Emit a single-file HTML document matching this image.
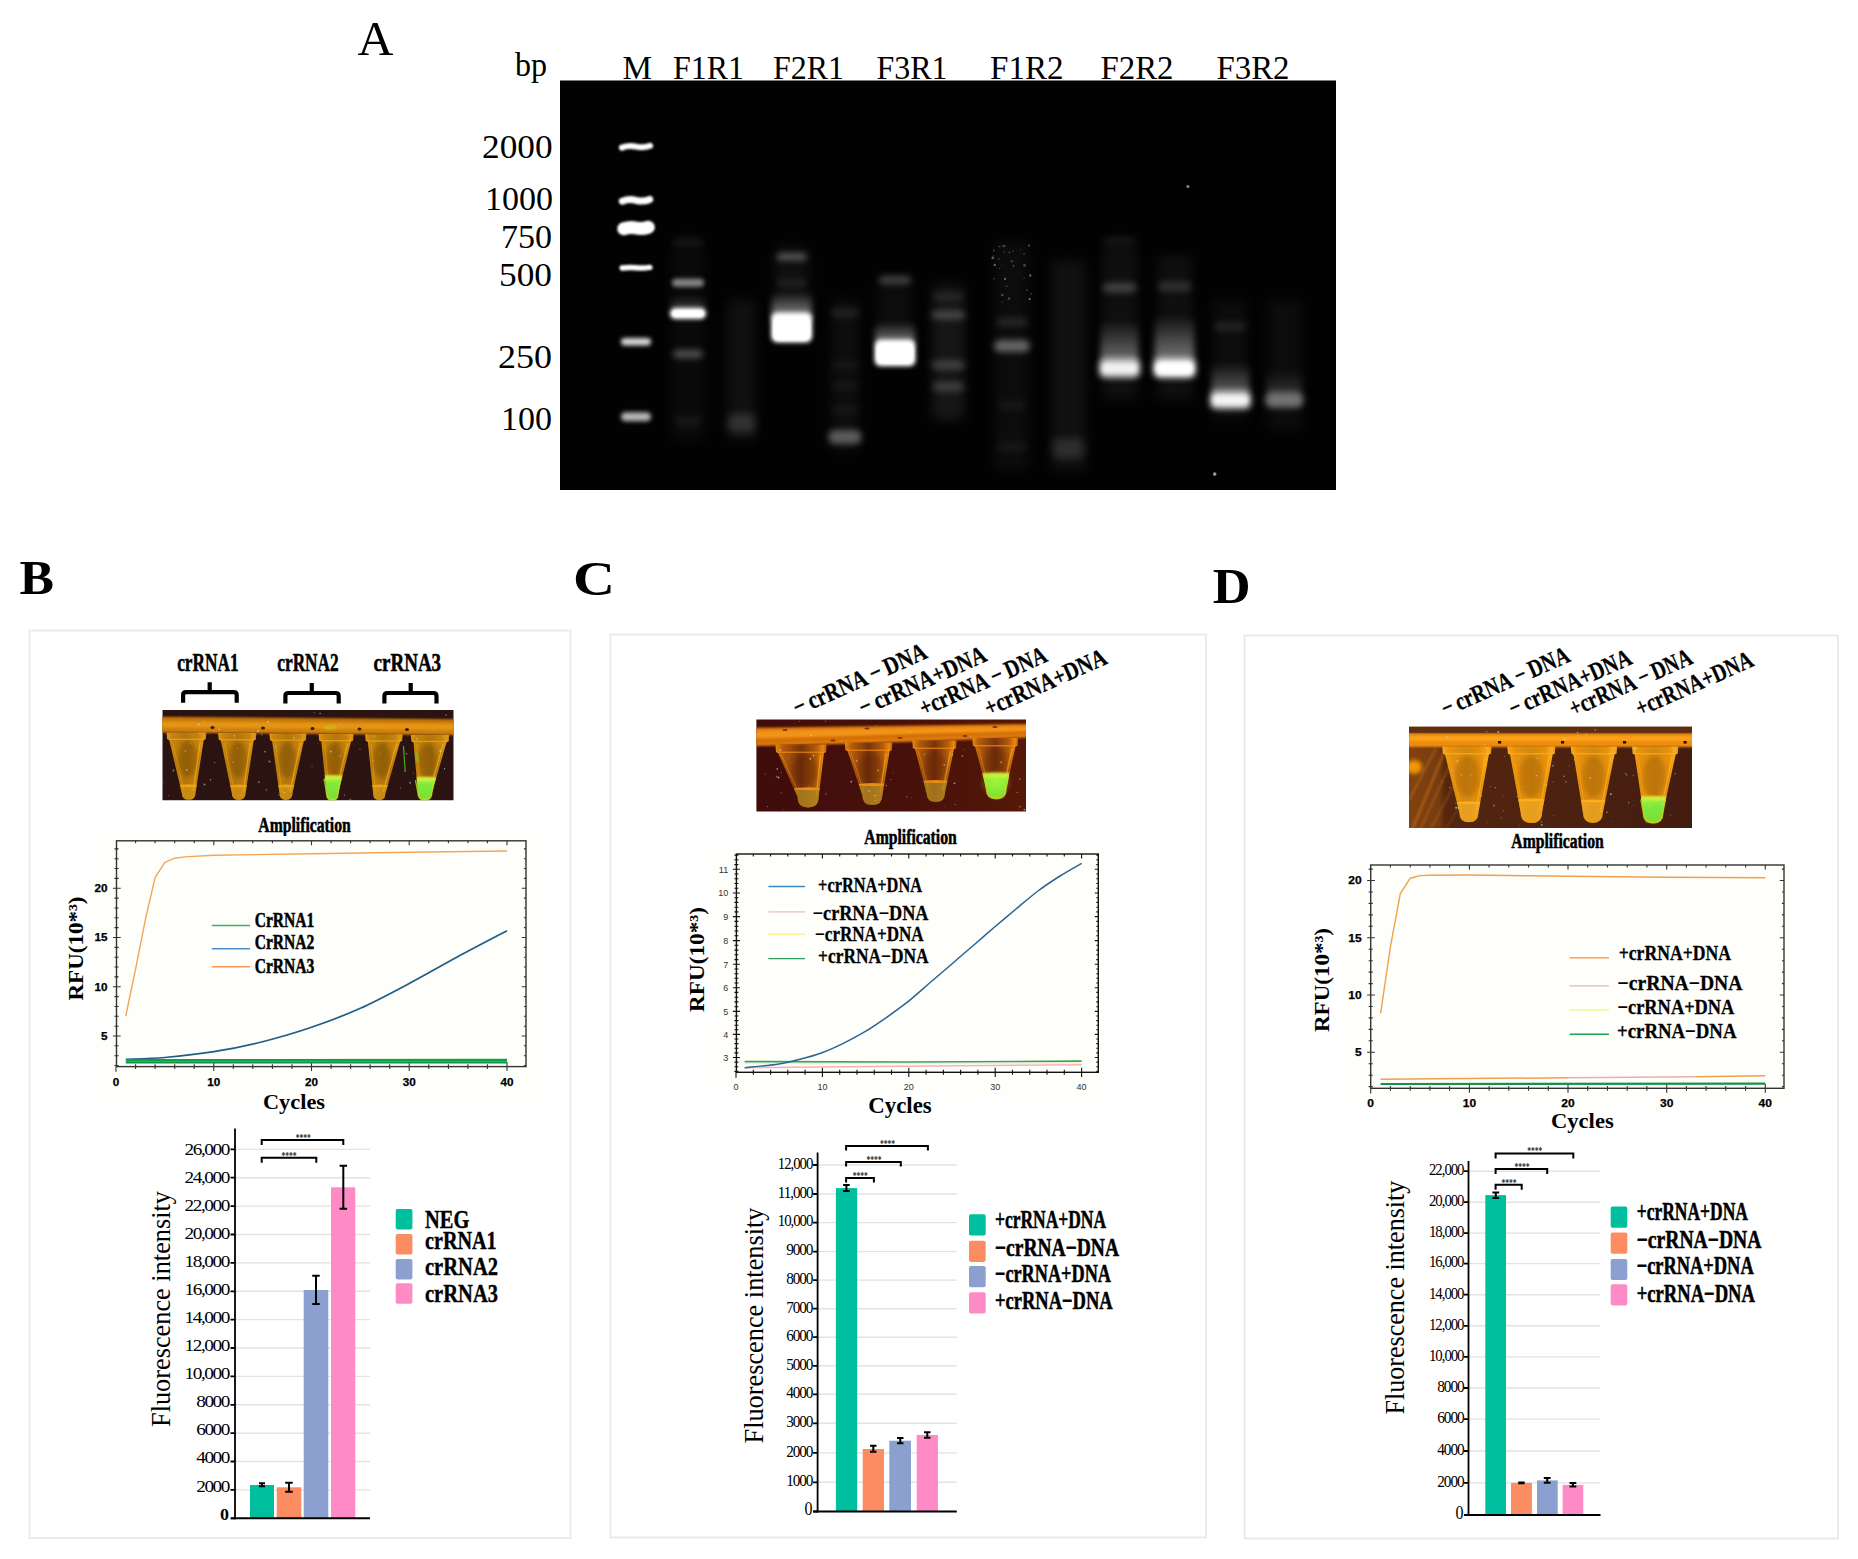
<!DOCTYPE html>
<html lang="en"><head><meta charset="utf-8"><title>Figure</title>
<style>
html,body{margin:0;padding:0;background:#fff;}
body{width:1858px;height:1559px;overflow:hidden;font-family:"Liberation Serif",serif;}
svg{display:block;}
text{white-space:pre;}
</style></head><body>
<svg width="1858" height="1559" viewBox="0 0 1858 1559">
<defs>
<filter id="b1" filterUnits="userSpaceOnUse" x="540" y="60" width="820" height="450"><feGaussianBlur stdDeviation="1.1"/></filter>
<filter id="b2" filterUnits="userSpaceOnUse" x="540" y="60" width="820" height="450"><feGaussianBlur stdDeviation="2"/></filter>
<filter id="b3" filterUnits="userSpaceOnUse" x="540" y="60" width="820" height="450"><feGaussianBlur stdDeviation="3"/></filter>
<filter id="b4" filterUnits="userSpaceOnUse" x="540" y="60" width="820" height="450"><feGaussianBlur stdDeviation="4.5"/></filter>
<filter id="b6" filterUnits="userSpaceOnUse" x="540" y="60" width="820" height="450"><feGaussianBlur stdDeviation="6"/></filter>
<clipPath id="gelclip"><rect x="560" y="80.5" width="776" height="409.5"/></clipPath>
<linearGradient id="tail" x1="0" x2="0" y1="0" y2="1"><stop offset="0" stop-color="#fff" stop-opacity="0"/><stop offset="1" stop-color="#fff" stop-opacity="1"/></linearGradient>
<filter id="pb1s" x="-10%" y="-10%" width="120%" height="120%"><feGaussianBlur stdDeviation="0.6"/></filter>
<filter id="pb1" x="-20%" y="-20%" width="140%" height="140%"><feGaussianBlur stdDeviation="1"/></filter>
<filter id="pb2" x="-20%" y="-50%" width="140%" height="200%"><feGaussianBlur stdDeviation="2"/></filter>
<linearGradient id="greeng" x1="0" x2="0" y1="0" y2="1"><stop offset="0" stop-color="#c8f43c"/><stop offset="0.25" stop-color="#80ea3e"/><stop offset="0.8" stop-color="#78e034"/><stop offset="1" stop-color="#b4dc22"/></linearGradient>
<clipPath id="phB"><rect x="162.3" y="710" width="291.4" height="90.5"/></clipPath>
<clipPath id="phC"><rect x="756.4" y="719.5" width="269.6" height="92"/></clipPath>
<linearGradient id="bgC" x1="0" x2="1" y1="0" y2="0"><stop offset="0" stop-color="#3f0c0c"/><stop offset="0.6" stop-color="#48110a"/><stop offset="1" stop-color="#561808"/></linearGradient>
<radialGradient id="glowC" cx="0.5" cy="0.5" r="0.5"><stop offset="0" stop-color="#c8ff30" stop-opacity="0.9"/><stop offset="1" stop-color="#c8ff30" stop-opacity="0"/></radialGradient>
<clipPath id="phD"><rect x="1409" y="726.7" width="283" height="101.3"/></clipPath>
<linearGradient id="bgD" x1="0" x2="1" y1="0" y2="0"><stop offset="0" stop-color="#7a3a0c"/><stop offset="0.14" stop-color="#54260f"/><stop offset="1" stop-color="#431c10"/></linearGradient>

</defs>
<rect width="1858" height="1559" fill="#fff"/>
<text x="357.5" y="55.0" font-size="48" font-family='"Liberation Serif", serif' textLength="36.0" lengthAdjust="spacingAndGlyphs">A</text>
<text x="515.0" y="76.0" font-size="33" font-family='"Liberation Serif", serif' textLength="32.0" lengthAdjust="spacingAndGlyphs">bp</text>
<text x="622.5" y="79.0" font-size="33" font-family='"Liberation Serif", serif' textLength="29.5" lengthAdjust="spacingAndGlyphs">M</text>
<text x="673.0" y="79.0" font-size="33" font-family='"Liberation Serif", serif' textLength="71.0" lengthAdjust="spacingAndGlyphs">F1R1</text>
<text x="773.0" y="79.0" font-size="33" font-family='"Liberation Serif", serif' textLength="71.0" lengthAdjust="spacingAndGlyphs">F2R1</text>
<text x="876.5" y="79.0" font-size="33" font-family='"Liberation Serif", serif' textLength="71.0" lengthAdjust="spacingAndGlyphs">F3R1</text>
<text x="990.0" y="79.0" font-size="33" font-family='"Liberation Serif", serif' textLength="73.5" lengthAdjust="spacingAndGlyphs">F1R2</text>
<text x="1100.5" y="79.0" font-size="33" font-family='"Liberation Serif", serif' textLength="73.0" lengthAdjust="spacingAndGlyphs">F2R2</text>
<text x="1216.5" y="79.0" font-size="33" font-family='"Liberation Serif", serif' textLength="73.0" lengthAdjust="spacingAndGlyphs">F3R2</text>
<text x="482.0" y="158.3" font-size="33" font-family='"Liberation Serif", serif' textLength="70.5" lengthAdjust="spacingAndGlyphs">2000</text>
<text x="485.0" y="210.0" font-size="33" font-family='"Liberation Serif", serif' textLength="68.0" lengthAdjust="spacingAndGlyphs">1000</text>
<text x="501.0" y="247.5" font-size="33" font-family='"Liberation Serif", serif' textLength="51.0" lengthAdjust="spacingAndGlyphs">750</text>
<text x="499.0" y="286.0" font-size="33" font-family='"Liberation Serif", serif' textLength="53.0" lengthAdjust="spacingAndGlyphs">500</text>
<text x="498.0" y="367.5" font-size="33" font-family='"Liberation Serif", serif' textLength="54.0" lengthAdjust="spacingAndGlyphs">250</text>
<text x="501.0" y="430.0" font-size="33" font-family='"Liberation Serif", serif' textLength="51.0" lengthAdjust="spacingAndGlyphs">100</text>
<rect x="560.0" y="80.5" width="776.0" height="409.5" fill="#020202" />
<g clip-path="url(#gelclip)">
<rect x="672.0" y="235.0" width="32.0" height="205.0" fill="#fff" opacity="0.03" filter="url(#b6)"/>
<rect x="727.7" y="300.0" width="28.0" height="140.0" fill="#fff" opacity="0.055" filter="url(#b6)"/>
<rect x="774.7" y="245.0" width="34.0" height="65.0" fill="#fff" opacity="0.05" filter="url(#b6)"/>
<rect x="831.0" y="300.0" width="28.0" height="150.0" fill="#fff" opacity="0.045" filter="url(#b6)"/>
<rect x="878.0" y="275.0" width="34.0" height="65.0" fill="#fff" opacity="0.04" filter="url(#b6)"/>
<rect x="932.3" y="285.0" width="32.0" height="135.0" fill="#fff" opacity="0.08" filter="url(#b6)"/>
<rect x="994.7" y="240.0" width="34.0" height="230.0" fill="#fff" opacity="0.04" filter="url(#b6)"/>
<rect x="1051.3" y="260.0" width="34.0" height="210.0" fill="#fff" opacity="0.055" filter="url(#b6)"/>
<rect x="1103.0" y="240.0" width="34.0" height="160.0" fill="#fff" opacity="0.05" filter="url(#b6)"/>
<rect x="1158.0" y="255.0" width="34.0" height="145.0" fill="#fff" opacity="0.05" filter="url(#b6)"/>
<rect x="1213.0" y="300.0" width="34.0" height="120.0" fill="#fff" opacity="0.04" filter="url(#b6)"/>
<rect x="1268.0" y="300.0" width="34.0" height="130.0" fill="#fff" opacity="0.04" filter="url(#b6)"/>
<path d="M621.9,147.6 q7.0,-2.6 14.1,-0.9 t14.1,-0.9" stroke="#fff" stroke-width="6" fill="none" stroke-linecap="round" opacity="1.0" filter="url(#b1)"/>
<path d="M622.3,201.2 q6.8,-2.8 13.7,-0.9 t13.7,-0.9" stroke="#fff" stroke-width="7" fill="none" stroke-linecap="round" opacity="1.0" filter="url(#b1)"/>
<path d="M623.7,228.7 q6.2,-2.0 12.3,-0.7 t12.3,-0.7" stroke="#fff" stroke-width="13" fill="none" stroke-linecap="round" opacity="1.0" filter="url(#b1)"/>
<path d="M622.2,268.0 q6.9,-1.0 13.8,-0.3 t13.8,-0.3" stroke="#fff" stroke-width="5.5" fill="none" stroke-linecap="round" opacity="1.0" filter="url(#b1)"/>
<rect x="621.0" y="337.9" width="30.0" height="7.5" rx="3.8" fill="#fff" opacity="0.85" filter="url(#b2)"/>
<rect x="621.0" y="412.2" width="30.0" height="9.0" rx="4.5" fill="#fff" opacity="0.7" filter="url(#b2)"/>
<rect x="673.0" y="237.7" width="30.0" height="8.0" rx="4.0" fill="#fff" opacity="0.05" filter="url(#b3)"/>
<rect x="672.0" y="278.7" width="32.0" height="8.0" rx="4.0" fill="#fff" opacity="0.5" filter="url(#b2)"/>
<rect x="671.0" y="296.0" width="34.0" height="16.0" fill="url(#tail)" opacity="0.25" filter="url(#b3)"/>
<rect x="670.0" y="308.0" width="36.0" height="11.0" rx="5.5" fill="#fff" opacity="1.0" filter="url(#b2)"/>
<rect x="672.5" y="310.5" width="31.0" height="6.0" rx="3.0" fill="#fff" opacity="1.0" filter="url(#b1)"/>
<rect x="673.0" y="350.0" width="30.0" height="8.0" rx="4.0" fill="#fff" opacity="0.28" filter="url(#b3)"/>
<rect x="674.0" y="416.0" width="28.0" height="10.0" rx="5.0" fill="#fff" opacity="0.05" filter="url(#b3)"/>
<rect x="727.7" y="414.0" width="28.0" height="18.0" rx="6.0" fill="#fff" opacity="0.14" filter="url(#b4)"/>
<rect x="776.7" y="253.2" width="30.0" height="7.0" rx="3.5" fill="#fff" opacity="0.3" filter="url(#b3)"/>
<rect x="776.7" y="279.0" width="30.0" height="8.0" rx="4.0" fill="#fff" opacity="0.07" filter="url(#b3)"/>
<rect x="771.7" y="292.0" width="40.0" height="26.0" fill="url(#tail)" opacity="0.55" filter="url(#b3)"/>
<rect x="771.2" y="312.5" width="41.0" height="30.0" rx="6.0" fill="#fff" opacity="1.0" filter="url(#b2)"/>
<rect x="773.2" y="317.5" width="37.0" height="23.0" rx="6.0" fill="#fff" opacity="1.0" filter="url(#b1)"/>
<rect x="831.0" y="308.5" width="28.0" height="9.0" rx="4.5" fill="#fff" opacity="0.08" filter="url(#b3)"/>
<rect x="831.0" y="361.0" width="28.0" height="8.0" rx="4.0" fill="#fff" opacity="0.04" filter="url(#b3)"/>
<rect x="831.0" y="382.0" width="28.0" height="8.0" rx="4.0" fill="#fff" opacity="0.04" filter="url(#b3)"/>
<rect x="831.0" y="406.0" width="28.0" height="8.0" rx="4.0" fill="#fff" opacity="0.04" filter="url(#b3)"/>
<rect x="828.5" y="430.0" width="33.0" height="14.0" rx="6.0" fill="#fff" opacity="0.32" filter="url(#b3)"/>
<rect x="879.0" y="276.0" width="32.0" height="8.0" rx="4.0" fill="#fff" opacity="0.22" filter="url(#b3)"/>
<rect x="875.0" y="322.0" width="40.0" height="20.0" fill="url(#tail)" opacity="0.45" filter="url(#b3)"/>
<rect x="874.5" y="339.2" width="41.0" height="27.0" rx="6.0" fill="#fff" opacity="1.0" filter="url(#b2)"/>
<rect x="876.5" y="343.5" width="37.0" height="20.0" rx="6.0" fill="#fff" opacity="1.0" filter="url(#b1)"/>
<rect x="932.3" y="292.7" width="32.0" height="8.0" rx="4.0" fill="#fff" opacity="0.07" filter="url(#b3)"/>
<rect x="931.3" y="310.5" width="34.0" height="9.0" rx="4.5" fill="#fff" opacity="0.2" filter="url(#b3)"/>
<rect x="931.3" y="360.0" width="34.0" height="10.0" rx="5.0" fill="#fff" opacity="0.17" filter="url(#b3)"/>
<rect x="932.3" y="381.7" width="32.0" height="10.0" rx="5.0" fill="#fff" opacity="0.16" filter="url(#b3)"/>
<rect x="996.0" y="317.5" width="32.0" height="9.0" rx="4.5" fill="#fff" opacity="0.1" filter="url(#b3)"/>
<rect x="994.0" y="340.0" width="36.0" height="12.0" rx="6.0" fill="#fff" opacity="0.36" filter="url(#b3)"/>
<rect x="997.0" y="400.5" width="30.0" height="9.0" rx="4.5" fill="#fff" opacity="0.04" filter="url(#b3)"/>
<rect x="997.0" y="441.7" width="30.0" height="10.0" rx="5.0" fill="#fff" opacity="0.04" filter="url(#b3)"/>
<circle cx="1001.9" cy="246.4" r="0.8" fill="#fff" opacity="0.17"/>
<circle cx="994.8" cy="264.9" r="1.2" fill="#fff" opacity="0.36"/>
<circle cx="1024.1" cy="253.8" r="0.9" fill="#fff" opacity="0.20"/>
<circle cx="999.3" cy="246.6" r="0.7" fill="#fff" opacity="0.40"/>
<circle cx="1026.8" cy="290.0" r="1.1" fill="#fff" opacity="0.18"/>
<circle cx="1005.0" cy="278.9" r="1.1" fill="#fff" opacity="0.38"/>
<circle cx="1029.0" cy="245.4" r="1.0" fill="#fff" opacity="0.32"/>
<circle cx="1013.3" cy="251.0" r="0.9" fill="#fff" opacity="0.15"/>
<circle cx="1031.3" cy="293.7" r="0.9" fill="#fff" opacity="0.21"/>
<circle cx="1030.2" cy="275.5" r="1.2" fill="#fff" opacity="0.37"/>
<circle cx="1013.4" cy="265.7" r="1.0" fill="#fff" opacity="0.25"/>
<circle cx="998.8" cy="258.9" r="1.2" fill="#fff" opacity="0.13"/>
<circle cx="993.9" cy="278.8" r="0.7" fill="#fff" opacity="0.28"/>
<circle cx="1011.8" cy="261.3" r="1.3" fill="#fff" opacity="0.18"/>
<circle cx="1009.3" cy="252.6" r="1.0" fill="#fff" opacity="0.20"/>
<circle cx="1006.9" cy="286.3" r="0.8" fill="#fff" opacity="0.29"/>
<circle cx="1030.0" cy="246.3" r="0.5" fill="#fff" opacity="0.19"/>
<circle cx="1024.1" cy="278.2" r="0.7" fill="#fff" opacity="0.22"/>
<circle cx="999.5" cy="268.5" r="0.5" fill="#fff" opacity="0.33"/>
<circle cx="1029.6" cy="299.2" r="1.1" fill="#fff" opacity="0.41"/>
<circle cx="992.8" cy="257.9" r="1.3" fill="#fff" opacity="0.35"/>
<circle cx="1009.2" cy="298.5" r="1.0" fill="#fff" opacity="0.37"/>
<circle cx="1004.3" cy="251.9" r="0.9" fill="#fff" opacity="0.16"/>
<circle cx="1008.0" cy="299.6" r="0.8" fill="#fff" opacity="0.12"/>
<circle cx="993.9" cy="250.5" r="1.1" fill="#fff" opacity="0.23"/>
<circle cx="1004.2" cy="246.0" r="1.3" fill="#fff" opacity="0.25"/>
<circle cx="1000.7" cy="243.7" r="0.5" fill="#fff" opacity="0.17"/>
<circle cx="1020.4" cy="249.3" r="0.5" fill="#fff" opacity="0.27"/>
<circle cx="1002.5" cy="301.9" r="0.6" fill="#fff" opacity="0.28"/>
<circle cx="1024.5" cy="265.4" r="1.3" fill="#fff" opacity="0.26"/>
<circle cx="1002.2" cy="265.5" r="0.5" fill="#fff" opacity="0.25"/>
<circle cx="1002.4" cy="295.1" r="1.2" fill="#fff" opacity="0.27"/>
<circle cx="993.3" cy="255.8" r="0.7" fill="#fff" opacity="0.18"/>
<circle cx="1001.7" cy="293.9" r="0.6" fill="#fff" opacity="0.14"/>
<rect x="1052.5" y="438.5" width="32.0" height="20.0" rx="6.0" fill="#fff" opacity="0.12" filter="url(#b4)"/>
<rect x="1103.6" y="236.0" width="32.0" height="8.0" rx="4.0" fill="#fff" opacity="0.05" filter="url(#b3)"/>
<rect x="1102.6" y="282.7" width="34.0" height="10.0" rx="5.0" fill="#fff" opacity="0.2" filter="url(#b3)"/>
<rect x="1100.6" y="320.0" width="38.0" height="42.0" fill="url(#tail)" opacity="0.4" filter="url(#b3)"/>
<rect x="1099.1" y="358.8" width="41.0" height="19.0" rx="6.0" fill="#fff" opacity="0.8" filter="url(#b3)"/>
<rect x="1102.1" y="363.8" width="35.0" height="9.0" rx="4.5" fill="#fff" opacity="0.75" filter="url(#b2)"/>
<rect x="1157.5" y="281.4" width="34.0" height="10.0" rx="5.0" fill="#fff" opacity="0.13" filter="url(#b3)"/>
<rect x="1154.5" y="315.0" width="40.0" height="47.0" fill="url(#tail)" opacity="0.45" filter="url(#b3)"/>
<rect x="1153.5" y="358.8" width="42.0" height="19.0" rx="6.0" fill="#fff" opacity="0.95" filter="url(#b3)"/>
<rect x="1156.0" y="362.8" width="37.0" height="11.0" rx="5.5" fill="#fff" opacity="1.0" filter="url(#b2)"/>
<rect x="1214.5" y="322.2" width="32.0" height="9.0" rx="4.5" fill="#fff" opacity="0.09" filter="url(#b3)"/>
<rect x="1211.5" y="362.0" width="38.0" height="32.0" fill="url(#tail)" opacity="0.35" filter="url(#b3)"/>
<rect x="1210.0" y="391.0" width="41.0" height="18.0" rx="6.0" fill="#fff" opacity="0.8" filter="url(#b3)"/>
<rect x="1213.0" y="395.5" width="35.0" height="9.0" rx="4.5" fill="#fff" opacity="0.8" filter="url(#b2)"/>
<rect x="1266.2" y="370.0" width="36.0" height="24.0" fill="url(#tail)" opacity="0.15" filter="url(#b3)"/>
<rect x="1265.2" y="392.5" width="38.0" height="15.0" rx="6.0" fill="#fff" opacity="0.42" filter="url(#b3)"/>
<circle cx="1187.9" cy="186.5" r="1.6" fill="#fff" opacity="0.5"/>
<circle cx="1214.7" cy="474.1" r="1.8" fill="#fff" opacity="0.6"/>
</g>
<text x="19.6" y="594.0" font-size="47.5" font-family='"Liberation Serif", serif' font-weight="bold" textLength="34.5" lengthAdjust="spacingAndGlyphs">B</text>
<rect x="29.5" y="630.5" width="541" height="907.5" fill="#fff" stroke="#e9e9e9" stroke-width="1.8"/>
<text x="177.2" y="670.7" font-size="25" font-family='"Liberation Serif", serif' font-weight="bold" textLength="61.4" lengthAdjust="spacingAndGlyphs" stroke="#000" stroke-width="0.55">crRNA1</text>
<text x="277.3" y="670.7" font-size="25" font-family='"Liberation Serif", serif' font-weight="bold" textLength="61.4" lengthAdjust="spacingAndGlyphs" stroke="#000" stroke-width="0.55">crRNA2</text>
<text x="373.6" y="670.7" font-size="25" font-family='"Liberation Serif", serif' font-weight="bold" textLength="67.5" lengthAdjust="spacingAndGlyphs" stroke="#000" stroke-width="0.55">crRNA3</text>
<path d="M183.1,702.8000000000001V695.2Q183.1,692.2 186.1,692.2H233.7Q236.7,692.2 236.7,695.2V702.8000000000001M209.7,692.2V682.2" stroke="#000" stroke-width="4.2" fill="none" />
<path d="M285.4,703.6V696Q285.4,693 288.4,693H335.7Q338.7,693 338.7,696V703.6M311.8,693V683" stroke="#000" stroke-width="4.2" fill="none" />
<path d="M384.4,703.6V696Q384.4,693 387.4,693H433.5Q436.5,693 436.5,696V703.6M410.7,693V683" stroke="#000" stroke-width="4.2" fill="none" />
<g clip-path="url(#phB)">
<rect x="162.3" y="710.0" width="291.4" height="90.5" fill="#2a1311" />
<path d="M160,717 L456,719.6 L456,735 L160,732.6 Z" fill="#d07e0a" filter="url(#pb1)"/>
<path d="M160,721.5 L456,724 L456,730 L160,727.5 Z" fill="#e89c18" opacity="0.8" filter="url(#pb1)"/>
<path d="M160,717.5 L456,720 L456,721.5 L160,719 Z" fill="#b86c08" opacity="0.7" filter="url(#pb1)"/>
<linearGradient id="tgB0" x1="0" x2="1" y1="0" y2="0"><stop offset="0" stop-color="#f0a616"/><stop offset="0.14" stop-color="#d48e0e"/><stop offset="0.5" stop-color="#c08010"/><stop offset="0.8" stop-color="#d48e0e"/><stop offset="0.93" stop-color="#f0a616"/><stop offset="1" stop-color="#d48e0e"/></linearGradient>
<clipPath id="tcB0"><path d="M166.5,732.6 L206.4,732.6 L205.8,739.1 L203.7,740.1 L195.5,792.9 Q195.5,799.8 188.7,799.8 Q181.8,799.8 181.8,792.9 L169.2,740.1 L167.1,739.1 Z"/></clipPath>
<path d="M166.5,732.6 L206.4,732.6 L205.8,739.1 L203.7,740.1 L195.5,792.9 Q195.5,799.8 188.7,799.8 Q181.8,799.8 181.8,792.9 L169.2,740.1 L167.1,739.1 Z" fill="url(#tgB0)" opacity="0.92" filter="url(#pb1s)"/>
<g clip-path="url(#tcB0)">
<ellipse cx="187.6" cy="759.3" rx="9.8" ry="18.1" fill="#5a3606" opacity="0.35" filter="url(#pb2)"/>
<rect x="165.7" y="738.7" width="41.5" height="1.3" fill="#f0a616" opacity="0.75" filter="url(#pb1s)"/>
<path d="M200.2,742.1 L193.3,790.9" stroke="#ffc028" stroke-width="1.3" opacity="0.55" filter="url(#pb1s)"/>
<path d="M172.7,742.1 L184.0,790.9" stroke="#ffb420" stroke-width="1" opacity="0.35" filter="url(#pb1s)"/>
<rect x="173.8" y="785.8" width="29.7" height="15.0" fill="#e0a21a" opacity="0.45"/>
<ellipse cx="188.7" cy="785.8" rx="10.8" ry="1.5" fill="#f0a616" opacity="0.9" filter="url(#pb1s)"/>
</g>
<linearGradient id="tgB1" x1="0" x2="1" y1="0" y2="0"><stop offset="0" stop-color="#f0a616"/><stop offset="0.14" stop-color="#d48e0e"/><stop offset="0.5" stop-color="#c08010"/><stop offset="0.8" stop-color="#d48e0e"/><stop offset="0.93" stop-color="#f0a616"/><stop offset="1" stop-color="#d48e0e"/></linearGradient>
<clipPath id="tcB1"><path d="M218.1,733.0 L256.4,733.0 L255.8,739.5 L253.7,740.5 L245.6,793.1 Q245.6,800.0 238.7,800.0 Q231.8,800.0 231.8,793.1 L220.8,740.5 L218.7,739.5 Z"/></clipPath>
<path d="M218.1,733.0 L256.4,733.0 L255.8,739.5 L253.7,740.5 L245.6,793.1 Q245.6,800.0 238.7,800.0 Q231.8,800.0 231.8,793.1 L220.8,740.5 L218.7,739.5 Z" fill="url(#tgB1)" opacity="0.92" filter="url(#pb1s)"/>
<g clip-path="url(#tcB1)">
<ellipse cx="238.0" cy="759.6" rx="9.3" ry="18.1" fill="#5a3606" opacity="0.35" filter="url(#pb2)"/>
<rect x="217.3" y="739.1" width="39.9" height="1.3" fill="#f0a616" opacity="0.75" filter="url(#pb1s)"/>
<path d="M250.2,742.5 L243.4,791.1" stroke="#ffc028" stroke-width="1.3" opacity="0.55" filter="url(#pb1s)"/>
<path d="M224.3,742.5 L234.0,791.1" stroke="#ffb420" stroke-width="1" opacity="0.35" filter="url(#pb1s)"/>
<rect x="223.8" y="786.0" width="29.8" height="15.0" fill="#e0a21a" opacity="0.45"/>
<ellipse cx="238.7" cy="786.0" rx="10.9" ry="1.5" fill="#f0a616" opacity="0.9" filter="url(#pb1s)"/>
</g>
<linearGradient id="tgB2" x1="0" x2="1" y1="0" y2="0"><stop offset="0" stop-color="#f0a616"/><stop offset="0.14" stop-color="#d48e0e"/><stop offset="0.5" stop-color="#c08010"/><stop offset="0.8" stop-color="#d48e0e"/><stop offset="0.93" stop-color="#f0a616"/><stop offset="1" stop-color="#d48e0e"/></linearGradient>
<clipPath id="tcB2"><path d="M269.4,733.4 L306.5,733.4 L305.9,739.9 L303.8,740.9 L292.4,793.5 Q292.4,800.0 285.9,800.0 Q279.5,800.0 279.5,793.5 L272.1,740.9 L270.0,739.9 Z"/></clipPath>
<path d="M269.4,733.4 L306.5,733.4 L305.9,739.9 L303.8,740.9 L292.4,793.5 Q292.4,800.0 285.9,800.0 Q279.5,800.0 279.5,793.5 L272.1,740.9 L270.0,739.9 Z" fill="url(#tgB2)" opacity="0.92" filter="url(#pb1s)"/>
<g clip-path="url(#tcB2)">
<ellipse cx="287.0" cy="759.9" rx="9.0" ry="18.0" fill="#5a3606" opacity="0.35" filter="url(#pb2)"/>
<rect x="268.6" y="739.5" width="38.7" height="1.3" fill="#f0a616" opacity="0.75" filter="url(#pb1s)"/>
<path d="M300.3,742.9 L290.2,791.5" stroke="#ffc028" stroke-width="1.3" opacity="0.55" filter="url(#pb1s)"/>
<path d="M275.6,742.9 L281.7,791.5" stroke="#ffb420" stroke-width="1" opacity="0.35" filter="url(#pb1s)"/>
<rect x="271.5" y="786.0" width="28.9" height="15.0" fill="#e0a21a" opacity="0.45"/>
<ellipse cx="285.9" cy="786.0" rx="10.4" ry="1.5" fill="#f0a616" opacity="0.9" filter="url(#pb1s)"/>
</g>
<linearGradient id="tgB3" x1="0" x2="1" y1="0" y2="0"><stop offset="0" stop-color="#f0a616"/><stop offset="0.14" stop-color="#d48e0e"/><stop offset="0.5" stop-color="#c08010"/><stop offset="0.8" stop-color="#d48e0e"/><stop offset="0.93" stop-color="#f0a616"/><stop offset="1" stop-color="#d48e0e"/></linearGradient>
<clipPath id="tcB3"><path d="M318.6,733.9 L353.7,733.9 L353.1,740.4 L351.0,741.4 L337.9,794.6 Q337.9,800.2 332.3,800.2 Q326.7,800.2 326.7,794.6 L321.3,741.4 L319.2,740.4 Z"/></clipPath>
<path d="M318.6,733.9 L353.7,733.9 L353.1,740.4 L351.0,741.4 L337.9,794.6 Q337.9,800.2 332.3,800.2 Q326.7,800.2 326.7,794.6 L321.3,741.4 L319.2,740.4 Z" fill="url(#tgB3)" opacity="0.92" filter="url(#pb1s)"/>
<g clip-path="url(#tcB3)">
<ellipse cx="334.2" cy="760.3" rx="8.5" ry="17.9" fill="#5a3606" opacity="0.35" filter="url(#pb2)"/>
<rect x="317.8" y="740.0" width="36.7" height="1.3" fill="#f0a616" opacity="0.75" filter="url(#pb1s)"/>
<path d="M347.5,743.4 L335.7,792.6" stroke="#ffc028" stroke-width="1.3" opacity="0.55" filter="url(#pb1s)"/>
<path d="M324.8,743.4 L328.9,792.6" stroke="#ffb420" stroke-width="1" opacity="0.35" filter="url(#pb1s)"/>
<rect x="316.7" y="776.5" width="31.2" height="25.7" fill="url(#greeng)" filter="url(#pb1)"/>
<ellipse cx="332.3" cy="777.0" rx="10.6" ry="2" fill="#d6f03a" opacity="0.85" filter="url(#pb1)"/>
</g>
<path d="M324.2,778.5 L326.7,794.6 Q326.7,800.2 332.3,800.2 Q337.9,800.2 337.9,794.6 L340.4,778.5" fill="none" stroke="#d8d418" stroke-width="1.4" opacity="0.8" filter="url(#pb1s)"/>
<linearGradient id="tgB4" x1="0" x2="1" y1="0" y2="0"><stop offset="0" stop-color="#f0a616"/><stop offset="0.14" stop-color="#d48e0e"/><stop offset="0.5" stop-color="#c08010"/><stop offset="0.8" stop-color="#d48e0e"/><stop offset="0.93" stop-color="#f0a616"/><stop offset="1" stop-color="#d48e0e"/></linearGradient>
<clipPath id="tcB4"><path d="M365.1,734.3 L402.8,734.3 L402.2,740.8 L400.1,741.8 L385.3,794.0 Q385.3,800.0 379.2,800.0 Q373.2,800.0 373.2,794.0 L367.8,741.8 L365.7,740.8 Z"/></clipPath>
<path d="M365.1,734.3 L402.8,734.3 L402.2,740.8 L400.1,741.8 L385.3,794.0 Q385.3,800.0 379.2,800.0 Q373.2,800.0 373.2,794.0 L367.8,741.8 L365.7,740.8 Z" fill="url(#tgB4)" opacity="0.92" filter="url(#pb1s)"/>
<g clip-path="url(#tcB4)">
<ellipse cx="381.6" cy="760.5" rx="9.2" ry="17.7" fill="#5a3606" opacity="0.35" filter="url(#pb2)"/>
<rect x="364.3" y="740.4" width="39.3" height="1.3" fill="#f0a616" opacity="0.75" filter="url(#pb1s)"/>
<path d="M396.6,743.8 L383.1,792.0" stroke="#ffc028" stroke-width="1.3" opacity="0.55" filter="url(#pb1s)"/>
<path d="M371.3,743.8 L375.4,792.0" stroke="#ffb420" stroke-width="1" opacity="0.35" filter="url(#pb1s)"/>
<rect x="365.2" y="786.0" width="28.1" height="15.0" fill="#e0a21a" opacity="0.45"/>
<ellipse cx="379.2" cy="786.0" rx="10.1" ry="1.5" fill="#f0a616" opacity="0.9" filter="url(#pb1s)"/>
</g>
<linearGradient id="tgB5" x1="0" x2="1" y1="0" y2="0"><stop offset="0" stop-color="#f0a616"/><stop offset="0.14" stop-color="#d48e0e"/><stop offset="0.5" stop-color="#c08010"/><stop offset="0.8" stop-color="#d48e0e"/><stop offset="0.93" stop-color="#f0a616"/><stop offset="1" stop-color="#d48e0e"/></linearGradient>
<clipPath id="tcB5"><path d="M410.8,734.7 L449.3,734.7 L448.7,741.2 L446.6,742.2 L431.8,793.1 Q431.8,800.0 424.9,800.0 Q418.0,800.0 418.0,793.1 L413.5,742.2 L411.4,741.2 Z"/></clipPath>
<path d="M410.8,734.7 L449.3,734.7 L448.7,741.2 L446.6,742.2 L431.8,793.1 Q431.8,800.0 424.9,800.0 Q418.0,800.0 418.0,793.1 L413.5,742.2 L411.4,741.2 Z" fill="url(#tgB5)" opacity="0.92" filter="url(#pb1s)"/>
<g clip-path="url(#tcB5)">
<ellipse cx="427.5" cy="760.8" rx="9.4" ry="17.6" fill="#5a3606" opacity="0.35" filter="url(#pb2)"/>
<rect x="410.0" y="740.8" width="40.1" height="1.3" fill="#f0a616" opacity="0.75" filter="url(#pb1s)"/>
<path d="M443.1,744.2 L429.6,791.1" stroke="#ffc028" stroke-width="1.3" opacity="0.55" filter="url(#pb1s)"/>
<path d="M417.0,744.2 L420.2,791.1" stroke="#ffb420" stroke-width="1" opacity="0.35" filter="url(#pb1s)"/>
<rect x="408.0" y="778.2" width="33.8" height="23.8" fill="url(#greeng)" filter="url(#pb1)"/>
<ellipse cx="424.9" cy="778.7" rx="11.9" ry="2" fill="#d6f03a" opacity="0.85" filter="url(#pb1)"/>
</g>
<path d="M415.5,780.2 L418.0,793.1 Q418.0,800.0 424.9,800.0 Q431.8,800.0 431.8,793.1 L434.3,780.2" fill="none" stroke="#d8d418" stroke-width="1.4" opacity="0.8" filter="url(#pb1s)"/>
<ellipse cx="212.5" cy="727.5" rx="2" ry="1.5" fill="#3a1a08"/>
<ellipse cx="263" cy="728" rx="2" ry="1.5" fill="#3a1a08"/>
<ellipse cx="312.5" cy="728.5" rx="2" ry="1.5" fill="#3a1a08"/>
<ellipse cx="359.5" cy="729" rx="2" ry="1.5" fill="#3a1a08"/>
<ellipse cx="407" cy="729.4" rx="2" ry="1.5" fill="#3a1a08"/>
<path d="M403.5,746 L405.2,772" stroke="#58d020" stroke-width="1.1" opacity="0.85" filter="url(#pb1s)"/>
<path d="M415.5,752 L418,762" stroke="#8ad020" stroke-width="2.2" opacity="0.7" filter="url(#pb1)"/>
<ellipse cx="330" cy="727.5" rx="7" ry="2" fill="#b8d818" opacity="0.55" filter="url(#pb1)"/>
<circle cx="256.2" cy="724.4" r="0.8" fill="#bfe8e8" opacity="0.28"/>
<circle cx="317.9" cy="743.5" r="0.4" fill="#bfe8e8" opacity="0.48"/>
<circle cx="172.9" cy="749.6" r="0.4" fill="#bfe8e8" opacity="0.29"/>
<circle cx="285.5" cy="784.6" r="0.5" fill="#bfe8e8" opacity="0.35"/>
<circle cx="344.6" cy="795.3" r="0.7" fill="#bfe8e8" opacity="0.43"/>
<circle cx="446.1" cy="715.1" r="0.9" fill="#bfe8e8" opacity="0.38"/>
<circle cx="204.0" cy="721.5" r="0.6" fill="#bfe8e8" opacity="0.62"/>
<circle cx="214.6" cy="762.8" r="0.8" fill="#bfe8e8" opacity="0.42"/>
<circle cx="321.4" cy="716.6" r="0.4" fill="#bfe8e8" opacity="0.34"/>
<circle cx="360.0" cy="749.1" r="0.6" fill="#bfe8e8" opacity="0.51"/>
<circle cx="293.9" cy="737.7" r="0.9" fill="#bfe8e8" opacity="0.56"/>
<circle cx="233.0" cy="762.1" r="0.7" fill="#bfe8e8" opacity="0.64"/>
<circle cx="374.3" cy="736.6" r="1.0" fill="#bfe8e8" opacity="0.30"/>
<circle cx="283.7" cy="778.4" r="0.5" fill="#bfe8e8" opacity="0.47"/>
<circle cx="173.4" cy="770.5" r="0.9" fill="#bfe8e8" opacity="0.51"/>
<circle cx="416.8" cy="738.9" r="0.8" fill="#bfe8e8" opacity="0.52"/>
<circle cx="330.7" cy="751.6" r="0.9" fill="#bfe8e8" opacity="0.68"/>
<circle cx="300.0" cy="770.1" r="0.4" fill="#bfe8e8" opacity="0.57"/>
<circle cx="350.3" cy="799.4" r="0.9" fill="#bfe8e8" opacity="0.38"/>
<circle cx="274.3" cy="770.5" r="0.4" fill="#bfe8e8" opacity="0.46"/>
<circle cx="210.9" cy="721.4" r="0.4" fill="#bfe8e8" opacity="0.60"/>
<circle cx="199.6" cy="733.0" r="0.6" fill="#bfe8e8" opacity="0.64"/>
<circle cx="185.4" cy="751.0" r="0.7" fill="#bfe8e8" opacity="0.65"/>
<circle cx="400.4" cy="787.9" r="0.6" fill="#bfe8e8" opacity="0.44"/>
<circle cx="266.4" cy="789.7" r="1.0" fill="#bfe8e8" opacity="0.32"/>
<circle cx="213.3" cy="731.6" r="0.5" fill="#bfe8e8" opacity="0.47"/>
<circle cx="333.4" cy="734.4" r="0.4" fill="#bfe8e8" opacity="0.44"/>
<circle cx="269.5" cy="761.4" r="1.0" fill="#bfe8e8" opacity="0.56"/>
<circle cx="312.0" cy="766.0" r="0.8" fill="#bfe8e8" opacity="0.27"/>
<circle cx="423.8" cy="780.4" r="0.9" fill="#bfe8e8" opacity="0.61"/>
<circle cx="276.2" cy="746.5" r="0.5" fill="#bfe8e8" opacity="0.54"/>
<circle cx="180.1" cy="717.0" r="0.5" fill="#bfe8e8" opacity="0.32"/>
<circle cx="261.0" cy="715.7" r="0.4" fill="#bfe8e8" opacity="0.32"/>
<circle cx="191.5" cy="743.4" r="0.4" fill="#bfe8e8" opacity="0.64"/>
<circle cx="340.7" cy="724.2" r="0.6" fill="#bfe8e8" opacity="0.41"/>
<circle cx="268.0" cy="721.9" r="0.9" fill="#bfe8e8" opacity="0.70"/>
<circle cx="297.6" cy="754.1" r="0.5" fill="#bfe8e8" opacity="0.30"/>
<circle cx="261.7" cy="734.6" r="0.9" fill="#bfe8e8" opacity="0.32"/>
<circle cx="168.7" cy="795.6" r="0.7" fill="#bfe8e8" opacity="0.32"/>
<circle cx="320.1" cy="713.4" r="0.7" fill="#bfe8e8" opacity="0.69"/>
<circle cx="413.2" cy="773.0" r="0.6" fill="#bfe8e8" opacity="0.42"/>
<circle cx="210.6" cy="779.7" r="0.7" fill="#bfe8e8" opacity="0.60"/>
<circle cx="257.9" cy="730.9" r="0.9" fill="#bfe8e8" opacity="0.69"/>
<circle cx="410.1" cy="782.7" r="0.9" fill="#bfe8e8" opacity="0.58"/>
<circle cx="228.0" cy="757.1" r="0.6" fill="#bfe8e8" opacity="0.26"/>
<circle cx="170.1" cy="735.9" r="0.6" fill="#bfe8e8" opacity="0.56"/>
<circle cx="440.3" cy="750.8" r="1.0" fill="#bfe8e8" opacity="0.69"/>
<circle cx="439.9" cy="743.5" r="0.5" fill="#bfe8e8" opacity="0.35"/>
<circle cx="219.2" cy="729.2" r="0.8" fill="#bfe8e8" opacity="0.66"/>
<circle cx="406.6" cy="753.7" r="0.8" fill="#bfe8e8" opacity="0.61"/>
<circle cx="186.7" cy="769.8" r="0.9" fill="#bfe8e8" opacity="0.60"/>
<circle cx="380.3" cy="753.5" r="0.5" fill="#bfe8e8" opacity="0.61"/>
<circle cx="258.8" cy="782.3" r="1.0" fill="#bfe8e8" opacity="0.43"/>
<circle cx="278.8" cy="795.3" r="0.8" fill="#bfe8e8" opacity="0.33"/>
<circle cx="199.0" cy="724.5" r="0.9" fill="#bfe8e8" opacity="0.61"/>
<circle cx="204.5" cy="784.6" r="1.0" fill="#bfe8e8" opacity="0.55"/>
<circle cx="264.0" cy="759.8" r="0.5" fill="#bfe8e8" opacity="0.26"/>
<circle cx="444.5" cy="768.8" r="0.7" fill="#bfe8e8" opacity="0.67"/>
<circle cx="288.2" cy="788.6" r="0.9" fill="#bfe8e8" opacity="0.34"/>
<circle cx="235.3" cy="737.1" r="0.5" fill="#bfe8e8" opacity="0.51"/>
<circle cx="237.5" cy="748.3" r="0.5" fill="#bfe8e8" opacity="0.66"/>
<circle cx="265.0" cy="751.8" r="0.8" fill="#bfe8e8" opacity="0.66"/>
<circle cx="284.4" cy="792.7" r="0.7" fill="#bfe8e8" opacity="0.49"/>
<circle cx="314.3" cy="712.7" r="0.7" fill="#bfe8e8" opacity="0.33"/>
<circle cx="163.1" cy="782.1" r="0.5" fill="#bfe8e8" opacity="0.46"/>
<circle cx="373.0" cy="760.5" r="0.6" fill="#bfe8e8" opacity="0.48"/>
<circle cx="323.6" cy="780.8" r="0.5" fill="#bfe8e8" opacity="0.50"/>
<circle cx="234.3" cy="735.6" r="0.9" fill="#bfe8e8" opacity="0.48"/>
<circle cx="325.5" cy="778.6" r="0.9" fill="#bfe8e8" opacity="0.45"/>
<circle cx="340.2" cy="756.0" r="0.7" fill="#bfe8e8" opacity="0.56"/>
</g>
<text x="258.3" y="831.7" font-size="21.5" font-family='"Liberation Serif", serif' font-weight="bold" textLength="92.5" lengthAdjust="spacingAndGlyphs" stroke="#000" stroke-width="0.55">Amplification</text>
<rect x="90.0" y="836.0" width="450.0" height="264.0" fill="#fefefb" />
<rect x="116.5" y="840.8" width="409.5" height="225.8" fill="none" stroke="#333" stroke-width="1.4"/>
<path d="M116.0,1066.6v5.2M135.6,1064.2v4.8M135.6,840.8v2.4M155.1,1064.2v4.8M155.1,840.8v2.4M174.7,1064.2v4.8M174.7,840.8v2.4M194.2,1064.2v4.8M194.2,840.8v2.4M213.8,1062.2v8.8M213.8,840.8v4.4M233.3,1064.2v4.8M233.3,840.8v2.4M252.8,1064.2v4.8M252.8,840.8v2.4M272.4,1064.2v4.8M272.4,840.8v2.4M292.0,1064.2v4.8M292.0,840.8v2.4M311.5,1062.2v8.8M311.5,840.8v4.4M331.1,1064.2v4.8M331.1,840.8v2.4M350.6,1064.2v4.8M350.6,840.8v2.4M370.1,1064.2v4.8M370.1,840.8v2.4M389.7,1064.2v4.8M389.7,840.8v2.4M409.2,1062.2v8.8M409.2,840.8v4.4M428.8,1064.2v4.8M428.8,840.8v2.4M448.4,1064.2v4.8M448.4,840.8v2.4M467.9,1064.2v4.8M467.9,840.8v2.4M487.4,1064.2v4.8M487.4,840.8v2.4M507.0,1062.2v8.8M507.0,840.8v4.4M112.9,888.2h7.8M526.0,888.2h-4.2M112.9,937.5h7.8M526.0,937.5h-4.2M112.9,986.8h7.8M526.0,986.8h-4.2M112.9,1036.0h7.8M526.0,1036.0h-4.2M114.4,1065.5h4.2M526.0,1065.5h-2.1M114.4,1055.7h4.2M526.0,1055.7h-2.1M114.4,1045.8h4.2M526.0,1045.8h-2.1M114.4,1026.2h4.2M526.0,1026.2h-2.1M114.4,1016.3h4.2M526.0,1016.3h-2.1M114.4,1006.5h4.2M526.0,1006.5h-2.1M114.4,996.6h4.2M526.0,996.6h-2.1M114.4,976.9h4.2M526.0,976.9h-2.1M114.4,967.0h4.2M526.0,967.0h-2.1M114.4,957.2h4.2M526.0,957.2h-2.1M114.4,947.4h4.2M526.0,947.4h-2.1M114.4,927.6h4.2M526.0,927.6h-2.1M114.4,917.8h4.2M526.0,917.8h-2.1M114.4,908.0h4.2M526.0,908.0h-2.1M114.4,898.1h4.2M526.0,898.1h-2.1M114.4,878.4h4.2M526.0,878.4h-2.1M114.4,868.5h4.2M526.0,868.5h-2.1M114.4,858.7h4.2M526.0,858.7h-2.1M114.4,848.9h4.2M526.0,848.9h-2.1" stroke="#333" stroke-width="1.1" fill="none" />
<text x="116.0" y="1085.8" font-size="10.4" font-family='"Liberation Sans", sans-serif' font-weight="bold" textLength="6.5" lengthAdjust="spacingAndGlyphs" text-anchor="middle" stroke="#000" stroke-width="0.25">0</text>
<text x="213.8" y="1085.8" font-size="10.4" font-family='"Liberation Sans", sans-serif' font-weight="bold" textLength="13.0" lengthAdjust="spacingAndGlyphs" text-anchor="middle" stroke="#000" stroke-width="0.25">10</text>
<text x="311.5" y="1085.8" font-size="10.4" font-family='"Liberation Sans", sans-serif' font-weight="bold" textLength="13.0" lengthAdjust="spacingAndGlyphs" text-anchor="middle" stroke="#000" stroke-width="0.25">20</text>
<text x="409.2" y="1085.8" font-size="10.4" font-family='"Liberation Sans", sans-serif' font-weight="bold" textLength="13.0" lengthAdjust="spacingAndGlyphs" text-anchor="middle" stroke="#000" stroke-width="0.25">30</text>
<text x="507.0" y="1085.8" font-size="10.4" font-family='"Liberation Sans", sans-serif' font-weight="bold" textLength="13.0" lengthAdjust="spacingAndGlyphs" text-anchor="middle" stroke="#000" stroke-width="0.25">40</text>
<text x="107.5" y="892.0" font-size="10.4" font-family='"Liberation Sans", sans-serif' font-weight="bold" textLength="13.0" lengthAdjust="spacingAndGlyphs" text-anchor="end" stroke="#000" stroke-width="0.25">20</text>
<text x="107.5" y="941.2" font-size="10.4" font-family='"Liberation Sans", sans-serif' font-weight="bold" textLength="13.0" lengthAdjust="spacingAndGlyphs" text-anchor="end" stroke="#000" stroke-width="0.25">15</text>
<text x="107.5" y="990.5" font-size="10.4" font-family='"Liberation Sans", sans-serif' font-weight="bold" textLength="13.0" lengthAdjust="spacingAndGlyphs" text-anchor="end" stroke="#000" stroke-width="0.25">10</text>
<text x="107.5" y="1039.7" font-size="10.4" font-family='"Liberation Sans", sans-serif' font-weight="bold" textLength="6.5" lengthAdjust="spacingAndGlyphs" text-anchor="end" stroke="#000" stroke-width="0.25">5</text>
<path d="M125.8,1016.0 L135.6,968.9 L145.3,919.9 L155.1,877.4 L164.9,862.3 L174.7,858.2 L184.4,856.9 L213.8,855.3 L311.5,853.7 L409.2,852.3 L507.0,851.0" stroke="#f2a656" stroke-width="1.4" fill="none" stroke-linejoin="round"/>
<path d="M125.8,1059.3 C132.3,1059.0 150.2,1058.8 164.9,1057.5 C179.5,1056.2 197.5,1054.3 213.8,1051.7 C230.0,1049.1 246.3,1045.8 262.6,1041.7 C278.9,1037.6 295.2,1032.9 311.5,1027.3 C327.8,1021.7 344.1,1015.6 360.4,1008.3 C376.7,1001.0 393.0,992.1 409.2,983.5 C425.5,974.9 441.8,965.3 458.1,956.5 C474.4,947.7 498.9,935.0 507.0,930.7" stroke="#1f5f85" stroke-width="1.7" fill="none" />
<path d="M125.8,1060.2L507.0,1060.0" stroke="#12a045" stroke-width="2.3" fill="none" />
<path d="M125.8,1062.3L507.0,1062.4" stroke="#0c9448" stroke-width="2.2" fill="none" />
<line x1="211.8" y1="925.5" x2="250.0" y2="925.5" stroke="#3fae6a" stroke-width="1.5" />
<line x1="211.8" y1="948.7" x2="250.0" y2="948.7" stroke="#4a8fc7" stroke-width="1.5" />
<line x1="211.8" y1="966.7" x2="250.0" y2="966.7" stroke="#fb9457" stroke-width="1.5" />
<text x="254.7" y="926.6" font-size="22" font-family='"Liberation Serif", serif' font-weight="bold" textLength="59.6" lengthAdjust="spacingAndGlyphs" stroke="#000" stroke-width="0.55">CrRNA1</text>
<text x="254.7" y="948.7" font-size="22" font-family='"Liberation Serif", serif' font-weight="bold" textLength="59.6" lengthAdjust="spacingAndGlyphs" stroke="#000" stroke-width="0.55">CrRNA2</text>
<text x="254.7" y="973.4" font-size="22" font-family='"Liberation Serif", serif' font-weight="bold" textLength="59.6" lengthAdjust="spacingAndGlyphs" stroke="#000" stroke-width="0.55">CrRNA3</text>
<text x="263.0" y="1108.5" font-size="21.5" font-family='"Liberation Serif", serif' font-weight="bold" textLength="62.0" lengthAdjust="spacingAndGlyphs">Cycles</text>
<text x="82.6" y="1000.5" font-size="21.5" font-family='"Liberation Serif", serif' font-weight="bold" textLength="104.0" lengthAdjust="spacingAndGlyphs" transform="rotate(-90 82.6 1000.5)">RFU(10*³)</text>
<path d="M235.0,1489.9H370.0M235.0,1461.5H370.0M235.0,1433.2H370.0M235.0,1404.8H370.0M235.0,1376.4H370.0M235.0,1348.0H370.0M235.0,1319.6H370.0M235.0,1291.3H370.0M235.0,1262.9H370.0M235.0,1234.5H370.0M235.0,1206.1H370.0M235.0,1177.7H370.0M235.0,1149.4H370.0" stroke="#e2e2e2" stroke-width="1.4" fill="none" />
<rect x="250.0" y="1485.0" width="24.0" height="33.3" fill="#00bf9f" />
<rect x="276.7" y="1487.3" width="24.6" height="31.0" fill="#fc8d62" />
<rect x="303.7" y="1290.0" width="24.6" height="228.3" fill="#8ba0cf" />
<rect x="331.0" y="1187.3" width="24.3" height="331.0" fill="#ff8bc6" />
<line x1="235.0" y1="1128.5" x2="235.0" y2="1519.3" stroke="#000" stroke-width="1.8" />
<line x1="231.0" y1="1518.3" x2="370.0" y2="1518.3" stroke="#000" stroke-width="2" />
<path d="M230.5,1518.3H235.0M230.5,1489.9H235.0M230.5,1461.5H235.0M230.5,1433.2H235.0M230.5,1404.8H235.0M230.5,1376.4H235.0M230.5,1348.0H235.0M230.5,1319.6H235.0M230.5,1291.3H235.0M230.5,1262.9H235.0M230.5,1234.5H235.0M230.5,1206.1H235.0M230.5,1177.7H235.0M230.5,1149.4H235.0" stroke="#000" stroke-width="1.8" fill="none" />
<text x="229.0" y="1519.8" font-size="17.5" font-family='"Liberation Serif", serif' font-weight="bold" textLength="9.0" lengthAdjust="spacingAndGlyphs" text-anchor="end">0</text>
<text x="229.0" y="1491.5" font-size="16.5" font-family='"Liberation Serif", serif' textLength="32.8" lengthAdjust="spacingAndGlyphs" text-anchor="end" letter-spacing="-1.2">2000</text>
<text x="229.0" y="1463.4" font-size="16.5" font-family='"Liberation Serif", serif' textLength="32.8" lengthAdjust="spacingAndGlyphs" text-anchor="end" letter-spacing="-1.2">4000</text>
<text x="229.0" y="1435.3" font-size="16.5" font-family='"Liberation Serif", serif' textLength="32.8" lengthAdjust="spacingAndGlyphs" text-anchor="end" letter-spacing="-1.2">6000</text>
<text x="229.0" y="1407.2" font-size="16.5" font-family='"Liberation Serif", serif' textLength="32.8" lengthAdjust="spacingAndGlyphs" text-anchor="end" letter-spacing="-1.2">8000</text>
<text x="229.0" y="1379.1" font-size="16.5" font-family='"Liberation Serif", serif' textLength="44.5" lengthAdjust="spacingAndGlyphs" text-anchor="end" letter-spacing="-1.2">10,000</text>
<text x="229.0" y="1351.1" font-size="16.5" font-family='"Liberation Serif", serif' textLength="44.5" lengthAdjust="spacingAndGlyphs" text-anchor="end" letter-spacing="-1.2">12,000</text>
<text x="229.0" y="1323.0" font-size="16.5" font-family='"Liberation Serif", serif' textLength="44.5" lengthAdjust="spacingAndGlyphs" text-anchor="end" letter-spacing="-1.2">14,000</text>
<text x="229.0" y="1294.9" font-size="16.5" font-family='"Liberation Serif", serif' textLength="44.5" lengthAdjust="spacingAndGlyphs" text-anchor="end" letter-spacing="-1.2">16,000</text>
<text x="229.0" y="1266.8" font-size="16.5" font-family='"Liberation Serif", serif' textLength="44.5" lengthAdjust="spacingAndGlyphs" text-anchor="end" letter-spacing="-1.2">18,000</text>
<text x="229.0" y="1238.7" font-size="16.5" font-family='"Liberation Serif", serif' textLength="44.5" lengthAdjust="spacingAndGlyphs" text-anchor="end" letter-spacing="-1.2">20,000</text>
<text x="229.0" y="1210.7" font-size="16.5" font-family='"Liberation Serif", serif' textLength="44.5" lengthAdjust="spacingAndGlyphs" text-anchor="end" letter-spacing="-1.2">22,000</text>
<text x="229.0" y="1182.6" font-size="16.5" font-family='"Liberation Serif", serif' textLength="44.5" lengthAdjust="spacingAndGlyphs" text-anchor="end" letter-spacing="-1.2">24,000</text>
<text x="229.0" y="1154.5" font-size="16.5" font-family='"Liberation Serif", serif' textLength="44.5" lengthAdjust="spacingAndGlyphs" text-anchor="end" letter-spacing="-1.2">26,000</text>
<path d="M262.0,1483.3V1486.3M259.0,1483.3h6M259.0,1486.3h6M289.0,1482.7V1491.7M285.2,1482.7h7.5M285.2,1491.7h7.5M316.0,1275.7V1304.0M312.2,1275.7h7.5M312.2,1304.0h7.5M343.3,1165.7V1208.7M339.6,1165.7h7.5M339.6,1208.7h7.5" stroke="#000" stroke-width="2" fill="none" />
<path d="M261.7,1145.0V1140.0H343.3V1145.0M261.7,1162.7V1157.7H316.3V1162.7" stroke="#000" stroke-width="2" fill="none" />
<text x="303.3" y="1140.9" font-size="9.5" font-family='"Liberation Serif", serif' font-weight="bold" textLength="15.0" lengthAdjust="spacingAndGlyphs" text-anchor="middle" fill="#222">****</text>
<text x="289.0" y="1158.5" font-size="9.5" font-family='"Liberation Serif", serif' font-weight="bold" textLength="15.0" lengthAdjust="spacingAndGlyphs" text-anchor="middle" fill="#222">****</text>
<text x="170.0" y="1427.0" font-size="26.5" font-family='"Liberation Serif", serif' textLength="236.0" lengthAdjust="spacingAndGlyphs" transform="rotate(-90 170.0 1427.0)">Fluorescence intensity</text>
<rect x="395.7" y="1209.0" width="16.7" height="20.4" rx="1.8" fill="#00bf9f"/>
<rect x="395.7" y="1234.0" width="16.7" height="20.4" rx="1.8" fill="#fc8d62"/>
<rect x="395.7" y="1259.0" width="16.7" height="20.4" rx="1.8" fill="#8ba0cf"/>
<rect x="395.7" y="1283.3" width="16.7" height="20.4" rx="1.8" fill="#ff8bc6"/>
<text x="425.0" y="1227.5" font-size="24.5" font-family='"Liberation Serif", serif' font-weight="bold" textLength="44.3" lengthAdjust="spacingAndGlyphs" stroke="#000" stroke-width="0.4">NEG</text>
<text x="425.0" y="1248.5" font-size="24.5" font-family='"Liberation Serif", serif' font-weight="bold" textLength="71.7" lengthAdjust="spacingAndGlyphs" stroke="#000" stroke-width="0.4">crRNA1</text>
<text x="425.0" y="1275.0" font-size="24.5" font-family='"Liberation Serif", serif' font-weight="bold" textLength="73.0" lengthAdjust="spacingAndGlyphs" stroke="#000" stroke-width="0.4">crRNA2</text>
<text x="425.0" y="1301.7" font-size="24.5" font-family='"Liberation Serif", serif' font-weight="bold" textLength="73.0" lengthAdjust="spacingAndGlyphs" stroke="#000" stroke-width="0.4">crRNA3</text>
<text x="573.0" y="595.3" font-size="49" font-family='"Liberation Serif", serif' font-weight="bold" textLength="42.0" lengthAdjust="spacingAndGlyphs">C</text>
<rect x="610.5" y="634.5" width="595.5" height="903" fill="#fff" stroke="#e9e9e9" stroke-width="1.8"/>
<text x="797.2" y="716.1" font-size="25" font-family='"Liberation Serif", serif' font-weight="bold" textLength="144.0" lengthAdjust="spacingAndGlyphs" transform="rotate(-24 797.2 716.1)" stroke="#000" stroke-width="0.3">− crRNA − DNA</text>
<text x="863.1" y="716.1" font-size="25" font-family='"Liberation Serif", serif' font-weight="bold" textLength="137.0" lengthAdjust="spacingAndGlyphs" transform="rotate(-24 863.1 716.1)" stroke="#000" stroke-width="0.3">− crRNA+DNA</text>
<text x="923.8" y="716.5" font-size="25" font-family='"Liberation Serif", serif' font-weight="bold" textLength="137.0" lengthAdjust="spacingAndGlyphs" transform="rotate(-24 923.8 716.5)" stroke="#000" stroke-width="0.3">+crRNA − DNA</text>
<text x="988.8" y="716.5" font-size="25" font-family='"Liberation Serif", serif' font-weight="bold" textLength="131.0" lengthAdjust="spacingAndGlyphs" transform="rotate(-24 988.8 716.5)" stroke="#000" stroke-width="0.3">+crRNA+DNA</text>
<g clip-path="url(#phC)">
<rect x="756.0" y="719.0" width="271.0" height="93.0" fill="url(#bgC)" />
<path d="M755,727.7 L1027,724 L1027,737.5 L960,740 L860,743.5 L755,746 Z" fill="#e07c08" filter="url(#pb1)"/>
<path d="M755,731 L1027,726.5 L1027,732 L755,738 Z" fill="#f59a1c" opacity="0.8" filter="url(#pb1)"/>
<path d="M755,740 L900,734.5 L1027,731 L1027,734 L900,738 L755,743.5 Z" fill="#c86406" opacity="0.6" filter="url(#pb1)"/>
<linearGradient id="tgC0" x1="0" x2="1" y1="0" y2="0"><stop offset="0" stop-color="#f59212"/><stop offset="0.14" stop-color="#bc6208"/><stop offset="0.5" stop-color="#7c3608"/><stop offset="0.8" stop-color="#bc6208"/><stop offset="0.93" stop-color="#f59212"/><stop offset="1" stop-color="#bc6208"/></linearGradient>
<clipPath id="tcC0"><path d="M775.4,744.5 L826.7,744.5 L826.1,752.0 L824.0,753.0 L818.6,796.9 Q818.6,807.4 808.1,807.4 Q797.6,807.4 797.6,796.9 L778.1,753.0 L776.0,752.0 Z"/></clipPath>
<path d="M775.4,744.5 L826.7,744.5 L826.1,752.0 L824.0,753.0 L818.6,796.9 Q818.6,807.4 808.1,807.4 Q797.6,807.4 797.6,796.9 L778.1,753.0 L776.0,752.0 Z" fill="url(#tgC0)" opacity="0.93" filter="url(#pb1s)"/>
<g clip-path="url(#tcC0)">
<ellipse cx="804.6" cy="770.9" rx="12.7" ry="17.0" fill="#4a1606" opacity="0.3" filter="url(#pb2)"/>
<rect x="774.6" y="751.6" width="52.9" height="1.3" fill="#f59212" opacity="0.75" filter="url(#pb1s)"/>
<path d="M820.5,755.0 L816.4,794.9" stroke="#ffc028" stroke-width="1.3" opacity="0.55" filter="url(#pb1s)"/>
<path d="M781.6,755.0 L799.8,794.9" stroke="#ffb420" stroke-width="1" opacity="0.35" filter="url(#pb1s)"/>
<rect x="789.6" y="788.7" width="37.0" height="19.7" fill="#b08a22" opacity="0.75"/>
<ellipse cx="808.1" cy="788.7" rx="14.5" ry="1.5" fill="#f59212" opacity="0.9" filter="url(#pb1s)"/>
</g>
<linearGradient id="tgC1" x1="0" x2="1" y1="0" y2="0"><stop offset="0" stop-color="#f59212"/><stop offset="0.14" stop-color="#bc6208"/><stop offset="0.5" stop-color="#7c3608"/><stop offset="0.8" stop-color="#bc6208"/><stop offset="0.93" stop-color="#f59212"/><stop offset="1" stop-color="#bc6208"/></linearGradient>
<clipPath id="tcC1"><path d="M844.8,742.5 L892.4,742.5 L891.8,750.0 L889.7,751.0 L882.4,794.9 Q882.4,805.0 872.3,805.0 Q862.2,805.0 862.2,794.9 L847.5,751.0 L845.4,750.0 Z"/></clipPath>
<path d="M844.8,742.5 L892.4,742.5 L891.8,750.0 L889.7,751.0 L882.4,794.9 Q882.4,805.0 872.3,805.0 Q862.2,805.0 862.2,794.9 L847.5,751.0 L845.4,750.0 Z" fill="url(#tgC1)" opacity="0.93" filter="url(#pb1s)"/>
<g clip-path="url(#tcC1)">
<ellipse cx="870.5" cy="768.8" rx="11.8" ry="16.9" fill="#4a1606" opacity="0.3" filter="url(#pb2)"/>
<rect x="844.0" y="749.6" width="49.2" height="1.3" fill="#f59212" opacity="0.75" filter="url(#pb1s)"/>
<path d="M886.2,753.0 L880.2,792.9" stroke="#ffc028" stroke-width="1.3" opacity="0.55" filter="url(#pb1s)"/>
<path d="M851.0,753.0 L864.4,792.9" stroke="#ffb420" stroke-width="1" opacity="0.35" filter="url(#pb1s)"/>
<rect x="854.2" y="784.6" width="36.2" height="21.4" fill="#b08a22" opacity="0.75"/>
<ellipse cx="872.3" cy="784.6" rx="14.1" ry="1.5" fill="#f59212" opacity="0.9" filter="url(#pb1s)"/>
</g>
<linearGradient id="tgC2" x1="0" x2="1" y1="0" y2="0"><stop offset="0" stop-color="#f59212"/><stop offset="0.14" stop-color="#bc6208"/><stop offset="0.5" stop-color="#7c3608"/><stop offset="0.8" stop-color="#bc6208"/><stop offset="0.93" stop-color="#f59212"/><stop offset="1" stop-color="#bc6208"/></linearGradient>
<clipPath id="tcC2"><path d="M912.3,740.5 L956.7,740.5 L956.1,748.0 L954.0,749.0 L945.0,792.8 Q945.0,802.0 935.8,802.0 Q926.5,802.0 926.5,792.8 L915.0,749.0 L912.9,748.0 Z"/></clipPath>
<path d="M912.3,740.5 L956.7,740.5 L956.1,748.0 L954.0,749.0 L945.0,792.8 Q945.0,802.0 935.8,802.0 Q926.5,802.0 926.5,792.8 L915.0,749.0 L912.9,748.0 Z" fill="url(#tgC2)" opacity="0.93" filter="url(#pb1s)"/>
<g clip-path="url(#tcC2)">
<ellipse cx="935.1" cy="766.5" rx="10.9" ry="16.6" fill="#4a1606" opacity="0.3" filter="url(#pb2)"/>
<rect x="911.5" y="747.6" width="46.0" height="1.3" fill="#f59212" opacity="0.75" filter="url(#pb1s)"/>
<path d="M950.5,751.0 L942.8,790.8" stroke="#ffc028" stroke-width="1.3" opacity="0.55" filter="url(#pb1s)"/>
<path d="M918.5,751.0 L928.7,790.8" stroke="#ffb420" stroke-width="1" opacity="0.35" filter="url(#pb1s)"/>
<rect x="918.5" y="781.5" width="34.5" height="21.5" fill="#b08a22" opacity="0.7"/>
<ellipse cx="935.8" cy="781.5" rx="13.2" ry="1.5" fill="#f59212" opacity="0.9" filter="url(#pb1s)"/>
</g>
<linearGradient id="tgC3" x1="0" x2="1" y1="0" y2="0"><stop offset="0" stop-color="#f59212"/><stop offset="0.14" stop-color="#bc6208"/><stop offset="0.5" stop-color="#7c3608"/><stop offset="0.8" stop-color="#bc6208"/><stop offset="0.93" stop-color="#f59212"/><stop offset="1" stop-color="#bc6208"/></linearGradient>
<clipPath id="tcC3"><path d="M972.3,738.0 L1018.2,738.0 L1017.6,745.5 L1015.5,746.5 L1006.0,789.0 Q1006.0,798.8 996.2,798.8 Q986.5,798.8 986.5,789.0 L975.0,746.5 L972.9,745.5 Z"/></clipPath>
<path d="M972.3,738.0 L1018.2,738.0 L1017.6,745.5 L1015.5,746.5 L1006.0,789.0 Q1006.0,798.8 996.2,798.8 Q986.5,798.8 986.5,789.0 L975.0,746.5 L972.9,745.5 Z" fill="url(#tgC3)" opacity="0.93" filter="url(#pb1s)"/>
<g clip-path="url(#tcC3)">
<ellipse cx="995.8" cy="763.7" rx="11.3" ry="16.4" fill="#4a1606" opacity="0.3" filter="url(#pb2)"/>
<rect x="971.5" y="745.1" width="47.5" height="1.3" fill="#f59212" opacity="0.75" filter="url(#pb1s)"/>
<path d="M1012.0,748.5 L1003.8,787.0" stroke="#ffc028" stroke-width="1.3" opacity="0.55" filter="url(#pb1s)"/>
<path d="M978.5,748.5 L988.7,787.0" stroke="#ffb420" stroke-width="1" opacity="0.35" filter="url(#pb1s)"/>
<rect x="976.5" y="774.0" width="39.5" height="26.8" fill="url(#greeng)" filter="url(#pb1)"/>
<ellipse cx="996.2" cy="774.5" rx="14.8" ry="2" fill="#d6f03a" opacity="0.85" filter="url(#pb1)"/>
</g>
<path d="M984.0,776.0 L986.5,789.0 Q986.5,798.8 996.2,798.8 Q1006.0,798.8 1006.0,789.0 L1008.5,776.0" fill="none" stroke="#d8d418" stroke-width="1.4" opacity="0.8" filter="url(#pb1s)"/>
<ellipse cx="785" cy="730" rx="2.6" ry="1.1" fill="#7a2c06" opacity="0.9"/>
<ellipse cx="833" cy="740.5" rx="2.6" ry="1.1" fill="#7a2c06" opacity="0.9"/>
<ellipse cx="867" cy="728.5" rx="2.6" ry="1.1" fill="#7a2c06" opacity="0.9"/>
<ellipse cx="900" cy="738" rx="2.6" ry="1.1" fill="#7a2c06" opacity="0.9"/>
<ellipse cx="965" cy="736" rx="2.6" ry="1.1" fill="#7a2c06" opacity="0.9"/>
<ellipse cx="995" cy="727" rx="2.6" ry="1.1" fill="#7a2c06" opacity="0.9"/>
<ellipse cx="996" cy="783" rx="17" ry="15" fill="url(#glowC)" opacity="0.5"/>
<circle cx="878.2" cy="770.4" r="1.0" fill="#d8e8e0" opacity="0.46"/>
<circle cx="893.1" cy="772.9" r="0.5" fill="#d8e8e0" opacity="0.48"/>
<circle cx="925.8" cy="791.4" r="0.5" fill="#d8e8e0" opacity="0.39"/>
<circle cx="781.3" cy="792.9" r="0.8" fill="#d8e8e0" opacity="0.27"/>
<circle cx="1020.2" cy="806.8" r="0.8" fill="#d8e8e0" opacity="0.53"/>
<circle cx="799.2" cy="721.4" r="0.7" fill="#d8e8e0" opacity="0.28"/>
<circle cx="808.0" cy="741.8" r="0.4" fill="#d8e8e0" opacity="0.46"/>
<circle cx="875.1" cy="795.8" r="0.7" fill="#d8e8e0" opacity="0.54"/>
<circle cx="890.9" cy="779.6" r="0.7" fill="#d8e8e0" opacity="0.38"/>
<circle cx="1024.4" cy="809.6" r="0.9" fill="#d8e8e0" opacity="0.57"/>
<circle cx="841.5" cy="740.7" r="0.6" fill="#d8e8e0" opacity="0.28"/>
<circle cx="962.4" cy="756.0" r="0.9" fill="#d8e8e0" opacity="0.42"/>
<circle cx="1013.8" cy="796.3" r="0.4" fill="#d8e8e0" opacity="0.34"/>
<circle cx="1001.0" cy="762.3" r="1.0" fill="#d8e8e0" opacity="0.43"/>
<circle cx="776.6" cy="776.7" r="0.9" fill="#d8e8e0" opacity="0.37"/>
<circle cx="780.4" cy="749.9" r="1.0" fill="#d8e8e0" opacity="0.59"/>
<circle cx="788.6" cy="742.2" r="0.5" fill="#d8e8e0" opacity="0.28"/>
<circle cx="970.6" cy="736.0" r="0.7" fill="#d8e8e0" opacity="0.45"/>
<circle cx="808.1" cy="785.9" r="0.5" fill="#d8e8e0" opacity="0.54"/>
<circle cx="788.2" cy="757.9" r="0.5" fill="#d8e8e0" opacity="0.37"/>
<circle cx="1017.2" cy="792.3" r="0.6" fill="#d8e8e0" opacity="0.65"/>
<circle cx="813.5" cy="755.5" r="0.9" fill="#d8e8e0" opacity="0.54"/>
<circle cx="783.9" cy="809.0" r="0.5" fill="#d8e8e0" opacity="0.37"/>
<circle cx="964.1" cy="749.6" r="0.6" fill="#d8e8e0" opacity="0.28"/>
<circle cx="781.2" cy="772.4" r="0.5" fill="#d8e8e0" opacity="0.52"/>
<circle cx="856.6" cy="760.8" r="1.0" fill="#d8e8e0" opacity="0.47"/>
<circle cx="911.0" cy="798.0" r="0.5" fill="#d8e8e0" opacity="0.32"/>
<circle cx="1000.5" cy="793.6" r="0.5" fill="#d8e8e0" opacity="0.34"/>
<circle cx="955.2" cy="804.6" r="0.5" fill="#d8e8e0" opacity="0.68"/>
<circle cx="993.4" cy="774.3" r="0.7" fill="#d8e8e0" opacity="0.30"/>
<circle cx="767.4" cy="806.6" r="0.5" fill="#d8e8e0" opacity="0.57"/>
<circle cx="825.9" cy="794.1" r="0.8" fill="#d8e8e0" opacity="0.38"/>
<circle cx="804.0" cy="784.8" r="0.4" fill="#d8e8e0" opacity="0.35"/>
<circle cx="906.9" cy="796.7" r="0.8" fill="#d8e8e0" opacity="0.38"/>
<circle cx="1002.9" cy="738.4" r="0.4" fill="#d8e8e0" opacity="0.37"/>
<circle cx="876.4" cy="725.4" r="0.5" fill="#d8e8e0" opacity="0.42"/>
<circle cx="910.3" cy="731.8" r="0.6" fill="#d8e8e0" opacity="0.65"/>
<circle cx="1019.8" cy="779.1" r="0.8" fill="#d8e8e0" opacity="0.51"/>
<circle cx="794.6" cy="723.2" r="0.4" fill="#d8e8e0" opacity="0.66"/>
<circle cx="944.9" cy="806.6" r="0.4" fill="#d8e8e0" opacity="0.54"/>
<circle cx="886.2" cy="785.7" r="0.6" fill="#d8e8e0" opacity="0.70"/>
<circle cx="777.2" cy="769.1" r="0.8" fill="#d8e8e0" opacity="0.66"/>
<circle cx="954.5" cy="783.3" r="0.9" fill="#d8e8e0" opacity="0.66"/>
<circle cx="851.3" cy="781.7" r="0.9" fill="#d8e8e0" opacity="0.64"/>
<circle cx="868.8" cy="791.1" r="0.9" fill="#d8e8e0" opacity="0.51"/>
<circle cx="924.5" cy="754.4" r="0.7" fill="#d8e8e0" opacity="0.52"/>
<circle cx="778.5" cy="777.5" r="1.0" fill="#d8e8e0" opacity="0.65"/>
<circle cx="952.2" cy="755.0" r="0.8" fill="#d8e8e0" opacity="0.51"/>
<circle cx="875.1" cy="795.5" r="0.5" fill="#d8e8e0" opacity="0.59"/>
<circle cx="765.0" cy="774.1" r="0.7" fill="#d8e8e0" opacity="0.35"/>
<circle cx="944.2" cy="764.8" r="0.8" fill="#d8e8e0" opacity="0.66"/>
<circle cx="825.6" cy="721.0" r="0.6" fill="#d8e8e0" opacity="0.56"/>
<circle cx="811.3" cy="735.3" r="0.9" fill="#d8e8e0" opacity="0.55"/>
<circle cx="875.4" cy="800.3" r="0.6" fill="#d8e8e0" opacity="0.55"/>
<circle cx="810.2" cy="758.8" r="0.9" fill="#d8e8e0" opacity="0.66"/>
</g>
<text x="864.3" y="844.0" font-size="21.5" font-family='"Liberation Serif", serif' font-weight="bold" textLength="92.5" lengthAdjust="spacingAndGlyphs" stroke="#000" stroke-width="0.55">Amplification</text>
<rect x="712.0" y="850.0" width="394.0" height="246.0" fill="#fefefb" />
<rect x="736.4" y="854.0" width="361.9" height="218.3" fill="none" stroke="#111" stroke-width="1.4"/>
<path d="M736.0,1072.3v5.3999999999999995M753.3,1069.8v5.0M753.3,854.0v2.5M770.6,1069.8v5.0M770.6,854.0v2.5M787.8,1069.8v5.0M787.8,854.0v2.5M805.1,1069.8v5.0M805.1,854.0v2.5M822.4,1067.7v9.2M822.4,854.0v4.6M839.7,1069.8v5.0M839.7,854.0v2.5M857.0,1069.8v5.0M857.0,854.0v2.5M874.2,1069.8v5.0M874.2,854.0v2.5M891.5,1069.8v5.0M891.5,854.0v2.5M908.8,1067.7v9.2M908.8,854.0v4.6M926.1,1069.8v5.0M926.1,854.0v2.5M943.4,1069.8v5.0M943.4,854.0v2.5M960.6,1069.8v5.0M960.6,854.0v2.5M977.9,1069.8v5.0M977.9,854.0v2.5M995.2,1067.7v9.2M995.2,854.0v4.6M1012.5,1069.8v5.0M1012.5,854.0v2.5M1029.8,1069.8v5.0M1029.8,854.0v2.5M1047.0,1069.8v5.0M1047.0,854.0v2.5M1064.3,1069.8v5.0M1064.3,854.0v2.5M1081.6,1067.7v9.2M1081.6,854.0v4.6M732.9,1057.5h7.0M1098.3,1057.5h-3.5M732.9,1034.4h7.0M1098.3,1034.4h-3.5M732.9,1011.4h7.0M1098.3,1011.4h-3.5M732.9,987.7h7.0M1098.3,987.7h-3.5M732.9,964.3h7.0M1098.3,964.3h-3.5M732.9,940.6h7.0M1098.3,940.6h-3.5M732.9,916.6h7.0M1098.3,916.6h-3.5M732.9,893.0h7.0M1098.3,893.0h-3.5M732.9,869.3h7.0M1098.3,869.3h-3.5M734.4,1071.4h4.0M1098.3,1071.4h-2.0M734.4,1066.8h4.0M1098.3,1066.8h-2.0M734.4,1062.1h4.0M1098.3,1062.1h-2.0M734.4,1052.9h4.0M1098.3,1052.9h-2.0M734.4,1048.3h4.0M1098.3,1048.3h-2.0M734.4,1043.6h4.0M1098.3,1043.6h-2.0M734.4,1039.0h4.0M1098.3,1039.0h-2.0M734.4,1029.8h4.0M1098.3,1029.8h-2.0M734.4,1025.2h4.0M1098.3,1025.2h-2.0M734.4,1020.6h4.0M1098.3,1020.6h-2.0M734.4,1016.0h4.0M1098.3,1016.0h-2.0M734.4,1006.7h4.0M1098.3,1006.7h-2.0M734.4,1001.9h4.0M1098.3,1001.9h-2.0M734.4,997.2h4.0M1098.3,997.2h-2.0M734.4,992.4h4.0M1098.3,992.4h-2.0M734.4,983.0h4.0M1098.3,983.0h-2.0M734.4,978.3h4.0M1098.3,978.3h-2.0M734.4,973.7h4.0M1098.3,973.7h-2.0M734.4,969.0h4.0M1098.3,969.0h-2.0M734.4,959.6h4.0M1098.3,959.6h-2.0M734.4,954.8h4.0M1098.3,954.8h-2.0M734.4,950.1h4.0M1098.3,950.1h-2.0M734.4,945.3h4.0M1098.3,945.3h-2.0M734.4,935.8h4.0M1098.3,935.8h-2.0M734.4,931.0h4.0M1098.3,931.0h-2.0M734.4,926.2h4.0M1098.3,926.2h-2.0M734.4,921.4h4.0M1098.3,921.4h-2.0M734.4,911.9h4.0M1098.3,911.9h-2.0M734.4,907.2h4.0M1098.3,907.2h-2.0M734.4,902.4h4.0M1098.3,902.4h-2.0M734.4,897.7h4.0M1098.3,897.7h-2.0M734.4,888.3h4.0M1098.3,888.3h-2.0M734.4,883.5h4.0M1098.3,883.5h-2.0M734.4,878.8h4.0M1098.3,878.8h-2.0M734.4,874.0h4.0M1098.3,874.0h-2.0M734.4,864.6h4.0M1098.3,864.6h-2.0M734.4,859.8h4.0M1098.3,859.8h-2.0M734.4,855.1h4.0M1098.3,855.1h-2.0" stroke="#111" stroke-width="1.1" fill="none" />
<text x="736.0" y="1089.8" font-size="9" font-family='"Liberation Sans", sans-serif' text-anchor="middle" fill="#333">0</text>
<text x="822.4" y="1089.8" font-size="9" font-family='"Liberation Sans", sans-serif' text-anchor="middle" fill="#333">10</text>
<text x="908.8" y="1089.8" font-size="9" font-family='"Liberation Sans", sans-serif' text-anchor="middle" fill="#333">20</text>
<text x="995.2" y="1089.8" font-size="9" font-family='"Liberation Sans", sans-serif' text-anchor="middle" fill="#333">30</text>
<text x="1081.6" y="1089.8" font-size="9" font-family='"Liberation Sans", sans-serif' text-anchor="middle" fill="#333">40</text>
<text x="728.2" y="1060.7" font-size="9" font-family='"Liberation Sans", sans-serif' text-anchor="end" fill="#333">3</text>
<text x="728.2" y="1037.6" font-size="9" font-family='"Liberation Sans", sans-serif' text-anchor="end" fill="#333">4</text>
<text x="728.2" y="1014.6" font-size="9" font-family='"Liberation Sans", sans-serif' text-anchor="end" fill="#333">5</text>
<text x="728.2" y="990.9" font-size="9" font-family='"Liberation Sans", sans-serif' text-anchor="end" fill="#333">6</text>
<text x="728.2" y="967.5" font-size="9" font-family='"Liberation Sans", sans-serif' text-anchor="end" fill="#333">7</text>
<text x="728.2" y="943.8" font-size="9" font-family='"Liberation Sans", sans-serif' text-anchor="end" fill="#333">8</text>
<text x="728.2" y="919.8" font-size="9" font-family='"Liberation Sans", sans-serif' text-anchor="end" fill="#333">9</text>
<text x="728.2" y="896.2" font-size="9" font-family='"Liberation Sans", sans-serif' text-anchor="end" fill="#333">10</text>
<text x="728.2" y="872.5" font-size="9" font-family='"Liberation Sans", sans-serif' text-anchor="end" fill="#333">11</text>
<path d="M744.6,1067.7L1081.6,1064.8" stroke="#f4b0bc" stroke-width="1.5" fill="none" />
<path d="M744.6,1063.6L1081.6,1063.2" stroke="#f6f4b4" stroke-width="1.3" fill="none" />
<path d="M744.6,1061.6L908.8,1062L1081.6,1061.2" stroke="#36a356" stroke-width="1.7" fill="none" />
<path d="M744.7,1067.7 C750.4,1067.1 769.8,1065.4 779.0,1064.0 C788.2,1062.6 792.8,1061.2 800.0,1059.3 C807.2,1057.4 814.8,1055.3 822.0,1052.7 C829.2,1050.0 836.2,1046.8 843.3,1043.3 C850.5,1039.8 857.8,1036.0 865.0,1031.7 C872.2,1027.3 879.5,1022.3 886.7,1017.3 C893.8,1012.3 900.9,1007.3 908.0,1001.7 C915.1,996.0 922.2,989.5 929.3,983.3 C936.5,977.2 943.8,970.9 951.0,964.7 C958.2,958.4 965.4,952.2 972.7,946.0 C979.9,939.8 987.1,933.5 994.3,927.3 C1001.6,921.2 1008.7,915.1 1016.0,909.0 C1023.3,902.9 1030.7,896.5 1038.0,891.0 C1045.3,885.5 1052.7,880.6 1060.0,876.0 C1067.3,871.4 1078.1,865.4 1081.7,863.3" stroke="#2a6596" stroke-width="1.5" fill="none" />
<line x1="768.4" y1="886.5" x2="805.0" y2="886.5" stroke="#3f87c5" stroke-width="1.4" />
<line x1="768.4" y1="911.9" x2="805.0" y2="911.9" stroke="#f2b8c6" stroke-width="1.4" />
<line x1="768.4" y1="934.3" x2="805.0" y2="934.3" stroke="#f6f19a" stroke-width="1.4" />
<line x1="768.4" y1="958.6" x2="805.0" y2="958.6" stroke="#2ea05a" stroke-width="1.4" />
<text x="818.1" y="891.5" font-size="20.5" font-family='"Liberation Serif", serif' font-weight="bold" textLength="103.9" lengthAdjust="spacingAndGlyphs" stroke="#000" stroke-width="0.3">+crRNA+DNA</text>
<text x="812.7" y="919.7" font-size="20.5" font-family='"Liberation Serif", serif' font-weight="bold" textLength="115.8" lengthAdjust="spacingAndGlyphs" stroke="#000" stroke-width="0.3">−crRNA−DNA</text>
<text x="815.1" y="941.4" font-size="20.5" font-family='"Liberation Serif", serif' font-weight="bold" textLength="108.5" lengthAdjust="spacingAndGlyphs" stroke="#000" stroke-width="0.3">−crRNA+DNA</text>
<text x="818.1" y="963.1" font-size="20.5" font-family='"Liberation Serif", serif' font-weight="bold" textLength="110.4" lengthAdjust="spacingAndGlyphs" stroke="#000" stroke-width="0.3">+crRNA−DNA</text>
<text x="868.3" y="1113.3" font-size="22.5" font-family='"Liberation Serif", serif' font-weight="bold" textLength="63.4" lengthAdjust="spacingAndGlyphs">Cycles</text>
<text x="703.8" y="1012.0" font-size="21" font-family='"Liberation Serif", serif' font-weight="bold" textLength="105.0" lengthAdjust="spacingAndGlyphs" transform="rotate(-90 703.8 1012.0)">RFU(10*³)</text>
<path d="M817.6,1482.3H956.7M817.6,1452.9H956.7M817.6,1423.3H956.7M817.6,1394.3H956.7M817.6,1365.8H956.7M817.6,1337.2H956.7M817.6,1308.7H956.7M817.6,1280.1H956.7M817.6,1251.6H956.7M817.6,1222.6H956.7M817.6,1194.0H956.7M817.6,1165.0H956.7" stroke="#e2e2e2" stroke-width="1.4" fill="none" />
<rect x="835.9" y="1188.1" width="21.3" height="323.4" fill="#00bf9f" />
<rect x="862.7" y="1449.0" width="21.3" height="62.5" fill="#fc8d62" />
<rect x="889.3" y="1440.7" width="21.7" height="70.8" fill="#8ba0cf" />
<rect x="916.7" y="1435.0" width="21.3" height="76.5" fill="#ff8bc6" />
<line x1="817.6" y1="1152.6" x2="817.6" y2="1512.5" stroke="#000" stroke-width="1.8" />
<line x1="813.3" y1="1511.5" x2="956.8" y2="1511.5" stroke="#000" stroke-width="2" />
<path d="M813.1,1511.5H817.6M813.1,1482.3H817.6M813.1,1452.9H817.6M813.1,1423.3H817.6M813.1,1394.3H817.6M813.1,1365.8H817.6M813.1,1337.2H817.6M813.1,1308.7H817.6M813.1,1280.1H817.6M813.1,1251.6H817.6M813.1,1222.6H817.6M813.1,1194.0H817.6M813.1,1165.0H817.6" stroke="#000" stroke-width="1.8" fill="none" />
<text x="812.4" y="1515.2" font-size="18" font-family='"Liberation Serif", serif' textLength="8.0" lengthAdjust="spacingAndGlyphs" text-anchor="end">0</text>
<text x="812.4" y="1486.1" font-size="17" font-family='"Liberation Serif", serif' textLength="26.2" lengthAdjust="spacingAndGlyphs" text-anchor="end" letter-spacing="-1.2">1000</text>
<text x="812.4" y="1456.7" font-size="17" font-family='"Liberation Serif", serif' textLength="26.2" lengthAdjust="spacingAndGlyphs" text-anchor="end" letter-spacing="-1.2">2000</text>
<text x="812.4" y="1427.1" font-size="17" font-family='"Liberation Serif", serif' textLength="26.2" lengthAdjust="spacingAndGlyphs" text-anchor="end" letter-spacing="-1.2">3000</text>
<text x="812.4" y="1398.1" font-size="17" font-family='"Liberation Serif", serif' textLength="26.2" lengthAdjust="spacingAndGlyphs" text-anchor="end" letter-spacing="-1.2">4000</text>
<text x="812.4" y="1369.6" font-size="17" font-family='"Liberation Serif", serif' textLength="26.2" lengthAdjust="spacingAndGlyphs" text-anchor="end" letter-spacing="-1.2">5000</text>
<text x="812.4" y="1341.0" font-size="17" font-family='"Liberation Serif", serif' textLength="26.2" lengthAdjust="spacingAndGlyphs" text-anchor="end" letter-spacing="-1.2">6000</text>
<text x="812.4" y="1312.5" font-size="17" font-family='"Liberation Serif", serif' textLength="26.2" lengthAdjust="spacingAndGlyphs" text-anchor="end" letter-spacing="-1.2">7000</text>
<text x="812.4" y="1283.9" font-size="17" font-family='"Liberation Serif", serif' textLength="26.2" lengthAdjust="spacingAndGlyphs" text-anchor="end" letter-spacing="-1.2">8000</text>
<text x="812.4" y="1255.4" font-size="17" font-family='"Liberation Serif", serif' textLength="26.2" lengthAdjust="spacingAndGlyphs" text-anchor="end" letter-spacing="-1.2">9000</text>
<text x="812.4" y="1226.4" font-size="17" font-family='"Liberation Serif", serif' textLength="34.6" lengthAdjust="spacingAndGlyphs" text-anchor="end" letter-spacing="-1.2">10,000</text>
<text x="812.4" y="1197.8" font-size="17" font-family='"Liberation Serif", serif' textLength="34.6" lengthAdjust="spacingAndGlyphs" text-anchor="end" letter-spacing="-1.2">11,000</text>
<text x="812.4" y="1168.8" font-size="17" font-family='"Liberation Serif", serif' textLength="34.6" lengthAdjust="spacingAndGlyphs" text-anchor="end" letter-spacing="-1.2">12,000</text>
<path d="M846.4,1184.9V1191.1M843.1,1184.9h6.6M843.1,1191.1h6.6M873.3,1445.7V1451.7M870.0,1445.7h6.5M870.0,1451.7h6.5M900.3,1438.0V1443.3M897.0,1438.0h6.5M897.0,1443.3h6.5M927.3,1432.3V1437.7M924.0,1432.3h6.5M924.0,1437.7h6.5" stroke="#000" stroke-width="2" fill="none" />
<path d="M846.1,1150.5V1145.9H927.9V1150.5M846.1,1166.6V1162.1H900.8V1166.6M846.1,1182.5V1177.9H873.9V1182.5" stroke="#000" stroke-width="2" fill="none" />
<text x="887.6" y="1146.8" font-size="9.5" font-family='"Liberation Serif", serif' font-weight="bold" textLength="15.0" lengthAdjust="spacingAndGlyphs" text-anchor="middle" fill="#222">****</text>
<text x="874.1" y="1162.6" font-size="9.5" font-family='"Liberation Serif", serif' font-weight="bold" textLength="15.0" lengthAdjust="spacingAndGlyphs" text-anchor="middle" fill="#222">****</text>
<text x="860.3" y="1179.1" font-size="9.5" font-family='"Liberation Serif", serif' font-weight="bold" textLength="15.0" lengthAdjust="spacingAndGlyphs" text-anchor="middle" fill="#222">****</text>
<text x="762.8" y="1443.5" font-size="26.5" font-family='"Liberation Serif", serif' textLength="236.0" lengthAdjust="spacingAndGlyphs" transform="rotate(-90 762.8 1443.5)">Fluorescence intensity</text>
<rect x="969.0" y="1214.3" width="16.7" height="21.2" rx="1.8" fill="#00bf9f"/>
<rect x="969.0" y="1240.7" width="16.7" height="21.2" rx="1.8" fill="#fc8d62"/>
<rect x="969.0" y="1266.0" width="16.7" height="21.2" rx="1.8" fill="#8ba0cf"/>
<rect x="969.0" y="1292.3" width="16.7" height="21.2" rx="1.8" fill="#ff8bc6"/>
<text x="995.0" y="1227.7" font-size="25.5" font-family='"Liberation Serif", serif' font-weight="bold" textLength="111.0" lengthAdjust="spacingAndGlyphs" stroke="#000" stroke-width="0.55">+crRNA+DNA</text>
<text x="995.0" y="1255.7" font-size="25.5" font-family='"Liberation Serif", serif' font-weight="bold" textLength="124.0" lengthAdjust="spacingAndGlyphs" stroke="#000" stroke-width="0.55">−crRNA−DNA</text>
<text x="995.0" y="1281.7" font-size="25.5" font-family='"Liberation Serif", serif' font-weight="bold" textLength="116.0" lengthAdjust="spacingAndGlyphs" stroke="#000" stroke-width="0.55">−crRNA+DNA</text>
<text x="995.0" y="1309.0" font-size="25.5" font-family='"Liberation Serif", serif' font-weight="bold" textLength="117.7" lengthAdjust="spacingAndGlyphs" stroke="#000" stroke-width="0.55">+crRNA−DNA</text>
<text x="1212.8" y="602.6" font-size="50" font-family='"Liberation Serif", serif' font-weight="bold" textLength="37.8" lengthAdjust="spacingAndGlyphs">D</text>
<rect x="1244.5" y="635.5" width="593.5" height="903" fill="#fff" stroke="#e9e9e9" stroke-width="1.8"/>
<text x="1445.4" y="717.0" font-size="25" font-family='"Liberation Serif", serif' font-weight="bold" textLength="138.0" lengthAdjust="spacingAndGlyphs" transform="rotate(-24 1445.4 717.0)" stroke="#000" stroke-width="0.3">− crRNA − DNA</text>
<text x="1512.9" y="717.0" font-size="25" font-family='"Liberation Serif", serif' font-weight="bold" textLength="132.0" lengthAdjust="spacingAndGlyphs" transform="rotate(-24 1512.9 717.0)" stroke="#000" stroke-width="0.3">− crRNA+DNA</text>
<text x="1573.5" y="716.7" font-size="25" font-family='"Liberation Serif", serif' font-weight="bold" textLength="132.0" lengthAdjust="spacingAndGlyphs" transform="rotate(-24 1573.5 716.7)" stroke="#000" stroke-width="0.3">+crRNA − DNA</text>
<text x="1640.0" y="716.7" font-size="25" font-family='"Liberation Serif", serif' font-weight="bold" textLength="126.0" lengthAdjust="spacingAndGlyphs" transform="rotate(-24 1640.0 716.7)" stroke="#000" stroke-width="0.3">+crRNA+DNA</text>
<g clip-path="url(#phD)">
<rect x="1409.0" y="726.0" width="284.0" height="103.0" fill="url(#bgD)" />
<rect x="1408" y="747" width="34" height="82" fill="#8a4a14" opacity="0.55" filter="url(#pb2)"/>
<path d="M1412,830 L1446,748" stroke="#e88a10" stroke-width="3" opacity="0.35" filter="url(#pb1)"/>
<path d="M1420,830 L1452,760" stroke="#e88a10" stroke-width="2" opacity="0.3" filter="url(#pb1)"/>
<path d="M1409,800 L1436,748" stroke="#e88a10" stroke-width="2.5" opacity="0.3" filter="url(#pb1)"/>
<path d="M1430,830 L1462,770" stroke="#e88a10" stroke-width="2" opacity="0.25" filter="url(#pb1)"/>
<path d="M1445,830 L1470,790" stroke="#e88a10" stroke-width="1.5" opacity="0.2" filter="url(#pb1)"/>
<rect x="1408" y="733" width="286" height="14" fill="#ee8c08" filter="url(#pb1)"/>
<rect x="1408" y="736" width="286" height="5" fill="#ffa81c" opacity="0.8" filter="url(#pb1)"/>
<ellipse cx="1414" cy="767" rx="8" ry="7" fill="#ffa000" opacity="0.9" filter="url(#pb2)"/>
<rect x="1408" y="726" width="286" height="6.8" fill="#5e3012" opacity="0.95"/>
<linearGradient id="tgD0" x1="0" x2="1" y1="0" y2="0"><stop offset="0" stop-color="#ffb21c"/><stop offset="0.14" stop-color="#ee960a"/><stop offset="0.5" stop-color="#d88c12"/><stop offset="0.8" stop-color="#ee960a"/><stop offset="0.93" stop-color="#ffb21c"/><stop offset="1" stop-color="#ee960a"/></linearGradient>
<clipPath id="tcD0"><path d="M1442.3,746.5 L1491.6,746.5 L1491.0,753.5 L1488.9,754.5 L1478.4,812.7 Q1478.4,822.2 1468.9,822.2 Q1459.4,822.2 1459.4,812.7 L1445.0,754.5 L1442.9,753.5 Z"/></clipPath>
<path d="M1442.3,746.5 L1491.6,746.5 L1491.0,753.5 L1488.9,754.5 L1478.4,812.7 Q1478.4,822.2 1468.9,822.2 Q1459.4,822.2 1459.4,812.7 L1445.0,754.5 L1442.9,753.5 Z" fill="url(#tgD0)" opacity="0.97" filter="url(#pb1s)"/>
<g clip-path="url(#tcD0)">
<ellipse cx="1467.9" cy="776.2" rx="12.2" ry="20.4" fill="#8a4a06" opacity="0.3" filter="url(#pb2)"/>
<rect x="1441.5" y="753.1" width="50.9" height="1.3" fill="#ffb21c" opacity="0.75" filter="url(#pb1s)"/>
<path d="M1485.4,756.5 L1476.2,810.7" stroke="#ffc028" stroke-width="1.3" opacity="0.55" filter="url(#pb1s)"/>
<path d="M1448.5,756.5 L1461.6,810.7" stroke="#ffb420" stroke-width="1" opacity="0.35" filter="url(#pb1s)"/>
<rect x="1451.4" y="802.7" width="35.0" height="20.5" fill="#f4b030" opacity="0.55"/>
<ellipse cx="1468.9" cy="802.7" rx="13.5" ry="1.5" fill="#ffb21c" opacity="0.9" filter="url(#pb1s)"/>
</g>
<linearGradient id="tgD1" x1="0" x2="1" y1="0" y2="0"><stop offset="0" stop-color="#ffb21c"/><stop offset="0.14" stop-color="#ee960a"/><stop offset="0.5" stop-color="#d88c12"/><stop offset="0.8" stop-color="#ee960a"/><stop offset="0.93" stop-color="#ffb21c"/><stop offset="1" stop-color="#ee960a"/></linearGradient>
<clipPath id="tcD1"><path d="M1507.3,746.5 L1555.4,746.5 L1554.8,753.5 L1552.7,754.5 L1542.1,812.2 Q1542.1,823.0 1531.3,823.0 Q1520.6,823.0 1520.6,812.2 L1510.0,754.5 L1507.9,753.5 Z"/></clipPath>
<path d="M1507.3,746.5 L1555.4,746.5 L1554.8,753.5 L1552.7,754.5 L1542.1,812.2 Q1542.1,823.0 1531.3,823.0 Q1520.6,823.0 1520.6,812.2 L1510.0,754.5 L1507.9,753.5 Z" fill="url(#tgD1)" opacity="0.97" filter="url(#pb1s)"/>
<g clip-path="url(#tcD1)">
<ellipse cx="1531.3" cy="776.5" rx="11.9" ry="20.7" fill="#8a4a06" opacity="0.3" filter="url(#pb2)"/>
<rect x="1506.5" y="753.1" width="49.7" height="1.3" fill="#ffb21c" opacity="0.75" filter="url(#pb1s)"/>
<path d="M1549.2,756.5 L1539.9,810.2" stroke="#ffc028" stroke-width="1.3" opacity="0.55" filter="url(#pb1s)"/>
<path d="M1513.5,756.5 L1522.8,810.2" stroke="#ffb420" stroke-width="1" opacity="0.35" filter="url(#pb1s)"/>
<rect x="1512.6" y="800.0" width="37.5" height="24.0" fill="#f4b030" opacity="0.55"/>
<ellipse cx="1531.3" cy="800.0" rx="14.8" ry="1.5" fill="#ffb21c" opacity="0.9" filter="url(#pb1s)"/>
</g>
<linearGradient id="tgD2" x1="0" x2="1" y1="0" y2="0"><stop offset="0" stop-color="#ffb21c"/><stop offset="0.14" stop-color="#ee960a"/><stop offset="0.5" stop-color="#d88c12"/><stop offset="0.8" stop-color="#ee960a"/><stop offset="0.93" stop-color="#ffb21c"/><stop offset="1" stop-color="#ee960a"/></linearGradient>
<clipPath id="tcD2"><path d="M1570.8,746.5 L1617.2,746.5 L1616.6,753.5 L1614.5,754.5 L1602.8,813.1 Q1602.8,823.0 1592.9,823.0 Q1583.0,823.0 1583.0,813.1 L1573.5,754.5 L1571.4,753.5 Z"/></clipPath>
<path d="M1570.8,746.5 L1617.2,746.5 L1616.6,753.5 L1614.5,754.5 L1602.8,813.1 Q1602.8,823.0 1592.9,823.0 Q1583.0,823.0 1583.0,813.1 L1573.5,754.5 L1571.4,753.5 Z" fill="url(#tgD2)" opacity="0.97" filter="url(#pb1s)"/>
<g clip-path="url(#tcD2)">
<ellipse cx="1593.5" cy="776.5" rx="11.4" ry="20.7" fill="#8a4a06" opacity="0.3" filter="url(#pb2)"/>
<rect x="1570.0" y="753.1" width="48.0" height="1.3" fill="#ffb21c" opacity="0.75" filter="url(#pb1s)"/>
<path d="M1611.0,756.5 L1600.6,811.1" stroke="#ffc028" stroke-width="1.3" opacity="0.55" filter="url(#pb1s)"/>
<path d="M1577.0,756.5 L1585.2,811.1" stroke="#ffb420" stroke-width="1" opacity="0.35" filter="url(#pb1s)"/>
<rect x="1575.0" y="801.0" width="35.8" height="23.0" fill="#f4b030" opacity="0.5"/>
<ellipse cx="1592.9" cy="801.0" rx="13.9" ry="1.5" fill="#ffb21c" opacity="0.9" filter="url(#pb1s)"/>
</g>
<linearGradient id="tgD3" x1="0" x2="1" y1="0" y2="0"><stop offset="0" stop-color="#ffb21c"/><stop offset="0.14" stop-color="#ee960a"/><stop offset="0.5" stop-color="#d88c12"/><stop offset="0.8" stop-color="#ee960a"/><stop offset="0.93" stop-color="#ffb21c"/><stop offset="1" stop-color="#ee960a"/></linearGradient>
<clipPath id="tcD3"><path d="M1632.0,746.5 L1678.4,746.5 L1677.8,753.5 L1675.7,754.5 L1662.8,813.3 Q1662.8,823.0 1653.1,823.0 Q1643.4,823.0 1643.4,813.3 L1634.7,754.5 L1632.6,753.5 Z"/></clipPath>
<path d="M1632.0,746.5 L1678.4,746.5 L1677.8,753.5 L1675.7,754.5 L1662.8,813.3 Q1662.8,823.0 1653.1,823.0 Q1643.4,823.0 1643.4,813.3 L1634.7,754.5 L1632.6,753.5 Z" fill="url(#tgD3)" opacity="0.97" filter="url(#pb1s)"/>
<g clip-path="url(#tcD3)">
<ellipse cx="1654.2" cy="776.5" rx="11.4" ry="20.7" fill="#8a4a06" opacity="0.3" filter="url(#pb2)"/>
<rect x="1631.2" y="753.1" width="48.0" height="1.3" fill="#ffb21c" opacity="0.75" filter="url(#pb1s)"/>
<path d="M1672.2,756.5 L1660.6,811.3" stroke="#ffc028" stroke-width="1.3" opacity="0.55" filter="url(#pb1s)"/>
<path d="M1638.2,756.5 L1645.6,811.3" stroke="#ffb420" stroke-width="1" opacity="0.35" filter="url(#pb1s)"/>
<rect x="1633.4" y="797.5" width="39.4" height="27.5" fill="url(#greeng)" filter="url(#pb1)"/>
<ellipse cx="1653.1" cy="798.0" rx="14.7" ry="2" fill="#d6f03a" opacity="0.85" filter="url(#pb1)"/>
</g>
<path d="M1640.9,799.5 L1643.4,813.3 Q1643.4,823.0 1653.1,823.0 Q1662.8,823.0 1662.8,813.3 L1665.3,799.5" fill="none" stroke="#d8d418" stroke-width="1.4" opacity="0.8" filter="url(#pb1s)"/>
<rect x="1498.0" y="741" width="3.2" height="2.6" fill="#2a1005"/>
<rect x="1561.0" y="741" width="3.2" height="2.6" fill="#2a1005"/>
<rect x="1623.0" y="741" width="3.2" height="2.6" fill="#2a1005"/>
<rect x="1683.5" y="741" width="3.2" height="2.6" fill="#2a1005"/>
<circle cx="1481.2" cy="795.6" r="0.8" fill="#bfeaf0" opacity="0.47"/>
<circle cx="1494.0" cy="805.7" r="0.9" fill="#bfeaf0" opacity="0.48"/>
<circle cx="1566.3" cy="751.1" r="0.4" fill="#bfeaf0" opacity="0.42"/>
<circle cx="1586.3" cy="734.8" r="0.9" fill="#bfeaf0" opacity="0.35"/>
<circle cx="1498.2" cy="732.1" r="1.0" fill="#bfeaf0" opacity="0.58"/>
<circle cx="1658.8" cy="788.4" r="0.4" fill="#bfeaf0" opacity="0.40"/>
<circle cx="1564.4" cy="739.3" r="1.0" fill="#bfeaf0" opacity="0.42"/>
<circle cx="1478.7" cy="808.1" r="0.5" fill="#bfeaf0" opacity="0.67"/>
<circle cx="1553.3" cy="782.1" r="0.6" fill="#bfeaf0" opacity="0.47"/>
<circle cx="1486.7" cy="731.6" r="0.9" fill="#bfeaf0" opacity="0.36"/>
<circle cx="1635.1" cy="748.4" r="1.0" fill="#bfeaf0" opacity="0.65"/>
<circle cx="1628.7" cy="802.8" r="0.7" fill="#bfeaf0" opacity="0.58"/>
<circle cx="1470.6" cy="774.7" r="0.9" fill="#bfeaf0" opacity="0.34"/>
<circle cx="1670.8" cy="815.0" r="0.6" fill="#bfeaf0" opacity="0.41"/>
<circle cx="1552.8" cy="765.8" r="1.0" fill="#bfeaf0" opacity="0.42"/>
<circle cx="1446.7" cy="737.1" r="0.8" fill="#bfeaf0" opacity="0.70"/>
<circle cx="1564.0" cy="776.2" r="0.7" fill="#bfeaf0" opacity="0.59"/>
<circle cx="1495.5" cy="787.7" r="0.7" fill="#bfeaf0" opacity="0.53"/>
<circle cx="1485.2" cy="744.7" r="0.6" fill="#bfeaf0" opacity="0.67"/>
<circle cx="1526.7" cy="786.5" r="0.6" fill="#bfeaf0" opacity="0.30"/>
<circle cx="1456.4" cy="807.7" r="0.9" fill="#bfeaf0" opacity="0.42"/>
<circle cx="1610.8" cy="794.2" r="0.9" fill="#bfeaf0" opacity="0.68"/>
<circle cx="1541.8" cy="824.9" r="1.0" fill="#bfeaf0" opacity="0.52"/>
<circle cx="1660.8" cy="776.1" r="0.6" fill="#bfeaf0" opacity="0.36"/>
<circle cx="1659.0" cy="743.9" r="0.4" fill="#bfeaf0" opacity="0.61"/>
<circle cx="1633.5" cy="775.4" r="0.9" fill="#bfeaf0" opacity="0.27"/>
<circle cx="1504.5" cy="756.4" r="0.7" fill="#bfeaf0" opacity="0.33"/>
<circle cx="1457.4" cy="761.1" r="0.9" fill="#bfeaf0" opacity="0.69"/>
<circle cx="1626.5" cy="774.9" r="0.6" fill="#bfeaf0" opacity="0.68"/>
<circle cx="1571.4" cy="799.4" r="0.4" fill="#bfeaf0" opacity="0.35"/>
<circle cx="1649.6" cy="805.9" r="0.9" fill="#bfeaf0" opacity="0.52"/>
<circle cx="1546.5" cy="785.0" r="0.9" fill="#bfeaf0" opacity="0.39"/>
<circle cx="1573.6" cy="755.0" r="0.9" fill="#bfeaf0" opacity="0.25"/>
<circle cx="1611.3" cy="821.5" r="0.4" fill="#bfeaf0" opacity="0.52"/>
<circle cx="1601.0" cy="811.5" r="0.8" fill="#bfeaf0" opacity="0.37"/>
<circle cx="1541.4" cy="822.0" r="0.9" fill="#bfeaf0" opacity="0.31"/>
<circle cx="1463.7" cy="737.2" r="0.4" fill="#bfeaf0" opacity="0.45"/>
<circle cx="1475.2" cy="813.0" r="0.8" fill="#bfeaf0" opacity="0.31"/>
<circle cx="1574.7" cy="759.8" r="0.7" fill="#bfeaf0" opacity="0.35"/>
<circle cx="1481.5" cy="746.0" r="0.6" fill="#bfeaf0" opacity="0.57"/>
<circle cx="1577.5" cy="732.5" r="0.8" fill="#bfeaf0" opacity="0.64"/>
<circle cx="1633.6" cy="805.5" r="0.4" fill="#bfeaf0" opacity="0.46"/>
<circle cx="1455.9" cy="802.9" r="0.5" fill="#bfeaf0" opacity="0.57"/>
<circle cx="1503.2" cy="796.3" r="0.6" fill="#bfeaf0" opacity="0.27"/>
<circle cx="1537.2" cy="758.3" r="0.9" fill="#bfeaf0" opacity="0.38"/>
<circle cx="1565.8" cy="781.8" r="1.0" fill="#bfeaf0" opacity="0.29"/>
<circle cx="1590.3" cy="777.8" r="0.8" fill="#bfeaf0" opacity="0.69"/>
<circle cx="1517.5" cy="796.5" r="0.7" fill="#bfeaf0" opacity="0.50"/>
<circle cx="1455.9" cy="807.8" r="1.0" fill="#bfeaf0" opacity="0.41"/>
<circle cx="1519.5" cy="825.3" r="0.5" fill="#bfeaf0" opacity="0.28"/>
<circle cx="1458.3" cy="807.8" r="0.9" fill="#bfeaf0" opacity="0.45"/>
<circle cx="1595.3" cy="729.9" r="0.8" fill="#bfeaf0" opacity="0.45"/>
<circle cx="1569.4" cy="766.2" r="0.6" fill="#bfeaf0" opacity="0.35"/>
<circle cx="1452.2" cy="770.5" r="0.5" fill="#bfeaf0" opacity="0.57"/>
<circle cx="1644.3" cy="798.9" r="0.7" fill="#bfeaf0" opacity="0.36"/>
<circle cx="1536.4" cy="775.7" r="0.8" fill="#bfeaf0" opacity="0.68"/>
<circle cx="1461.4" cy="775.0" r="0.7" fill="#bfeaf0" opacity="0.57"/>
<circle cx="1662.6" cy="804.4" r="0.8" fill="#bfeaf0" opacity="0.59"/>
<circle cx="1607.0" cy="812.2" r="0.8" fill="#bfeaf0" opacity="0.56"/>
<circle cx="1501.3" cy="817.8" r="0.6" fill="#bfeaf0" opacity="0.53"/>
<circle cx="1646.2" cy="822.4" r="1.0" fill="#bfeaf0" opacity="0.25"/>
<circle cx="1518.2" cy="758.5" r="0.6" fill="#bfeaf0" opacity="0.32"/>
<circle cx="1578.3" cy="735.8" r="0.6" fill="#bfeaf0" opacity="0.67"/>
<circle cx="1625.6" cy="773.3" r="0.5" fill="#bfeaf0" opacity="0.68"/>
<circle cx="1616.0" cy="748.2" r="0.6" fill="#bfeaf0" opacity="0.54"/>
<circle cx="1610.4" cy="753.6" r="1.0" fill="#bfeaf0" opacity="0.39"/>
<circle cx="1503.6" cy="810.8" r="0.5" fill="#bfeaf0" opacity="0.56"/>
<circle cx="1490.0" cy="786.6" r="0.6" fill="#bfeaf0" opacity="0.42"/>
<circle cx="1675.2" cy="773.8" r="0.7" fill="#bfeaf0" opacity="0.53"/>
<circle cx="1510.2" cy="745.1" r="0.6" fill="#bfeaf0" opacity="0.37"/>
<circle cx="1487.1" cy="822.2" r="0.4" fill="#bfeaf0" opacity="0.61"/>
<circle cx="1673.7" cy="797.1" r="0.4" fill="#bfeaf0" opacity="0.48"/>
<circle cx="1449.8" cy="787.6" r="0.8" fill="#bfeaf0" opacity="0.36"/>
<circle cx="1441.9" cy="781.4" r="0.5" fill="#bfeaf0" opacity="0.39"/>
<circle cx="1553.5" cy="815.7" r="0.6" fill="#bfeaf0" opacity="0.31"/>
</g>
<text x="1511.3" y="848.3" font-size="21.5" font-family='"Liberation Serif", serif' font-weight="bold" textLength="92.5" lengthAdjust="spacingAndGlyphs" stroke="#000" stroke-width="0.55">Amplification</text>
<rect x="1343.5" y="858.0" width="452.5" height="252.0" fill="#fefefb" />
<rect x="1370.7" y="865.0" width="413.3" height="223.3" fill="none" stroke="#333" stroke-width="1.4"/>
<path d="M1370.7,1088.3v5.2M1390.4,1085.9v4.8M1390.4,865.0v2.4M1410.2,1085.9v4.8M1410.2,865.0v2.4M1429.9,1085.9v4.8M1429.9,865.0v2.4M1449.6,1085.9v4.8M1449.6,865.0v2.4M1469.4,1083.9v8.8M1469.4,865.0v4.4M1489.1,1085.9v4.8M1489.1,865.0v2.4M1508.8,1085.9v4.8M1508.8,865.0v2.4M1528.5,1085.9v4.8M1528.5,865.0v2.4M1548.3,1085.9v4.8M1548.3,865.0v2.4M1568.0,1083.9v8.8M1568.0,865.0v4.4M1587.7,1085.9v4.8M1587.7,865.0v2.4M1607.5,1085.9v4.8M1607.5,865.0v2.4M1627.2,1085.9v4.8M1627.2,865.0v2.4M1646.9,1085.9v4.8M1646.9,865.0v2.4M1666.7,1083.9v8.8M1666.7,865.0v4.4M1686.4,1085.9v4.8M1686.4,865.0v2.4M1706.1,1085.9v4.8M1706.1,865.0v2.4M1725.8,1085.9v4.8M1725.8,865.0v2.4M1745.6,1085.9v4.8M1745.6,865.0v2.4M1765.3,1083.9v8.8M1765.3,865.0v4.4M1367.1,880.5h7.8M1784.0,880.5h-4.2M1367.1,937.8h7.8M1784.0,937.8h-4.2M1367.1,995.0h7.8M1784.0,995.0h-4.2M1367.1,1052.3h7.8M1784.0,1052.3h-4.2M1368.6,1086.6h4.2M1784.0,1086.6h-2.1M1368.6,1075.2h4.2M1784.0,1075.2h-2.1M1368.6,1063.8h4.2M1784.0,1063.8h-2.1M1368.6,1040.8h4.2M1784.0,1040.8h-2.1M1368.6,1029.4h4.2M1784.0,1029.4h-2.1M1368.6,1017.9h4.2M1784.0,1017.9h-2.1M1368.6,1006.5h4.2M1784.0,1006.5h-2.1M1368.6,983.6h4.2M1784.0,983.6h-2.1M1368.6,972.1h4.2M1784.0,972.1h-2.1M1368.6,960.7h4.2M1784.0,960.7h-2.1M1368.6,949.2h4.2M1784.0,949.2h-2.1M1368.6,926.3h4.2M1784.0,926.3h-2.1M1368.6,914.9h4.2M1784.0,914.9h-2.1M1368.6,903.4h4.2M1784.0,903.4h-2.1M1368.6,892.0h4.2M1784.0,892.0h-2.1M1368.6,869.1h4.2M1784.0,869.1h-2.1" stroke="#333" stroke-width="1.1" fill="none" />
<text x="1370.7" y="1107.2" font-size="10.6" font-family='"Liberation Sans", sans-serif' font-weight="bold" textLength="6.7" lengthAdjust="spacingAndGlyphs" text-anchor="middle" stroke="#000" stroke-width="0.25">0</text>
<text x="1469.4" y="1107.2" font-size="10.6" font-family='"Liberation Sans", sans-serif' font-weight="bold" textLength="13.4" lengthAdjust="spacingAndGlyphs" text-anchor="middle" stroke="#000" stroke-width="0.25">10</text>
<text x="1568.0" y="1107.2" font-size="10.6" font-family='"Liberation Sans", sans-serif' font-weight="bold" textLength="13.4" lengthAdjust="spacingAndGlyphs" text-anchor="middle" stroke="#000" stroke-width="0.25">20</text>
<text x="1666.7" y="1107.2" font-size="10.6" font-family='"Liberation Sans", sans-serif' font-weight="bold" textLength="13.4" lengthAdjust="spacingAndGlyphs" text-anchor="middle" stroke="#000" stroke-width="0.25">30</text>
<text x="1765.3" y="1107.2" font-size="10.6" font-family='"Liberation Sans", sans-serif' font-weight="bold" textLength="13.4" lengthAdjust="spacingAndGlyphs" text-anchor="middle" stroke="#000" stroke-width="0.25">40</text>
<text x="1361.7" y="884.4" font-size="10.6" font-family='"Liberation Sans", sans-serif' font-weight="bold" textLength="13.4" lengthAdjust="spacingAndGlyphs" text-anchor="end" stroke="#000" stroke-width="0.25">20</text>
<text x="1361.7" y="941.6" font-size="10.6" font-family='"Liberation Sans", sans-serif' font-weight="bold" textLength="13.4" lengthAdjust="spacingAndGlyphs" text-anchor="end" stroke="#000" stroke-width="0.25">15</text>
<text x="1361.7" y="998.9" font-size="10.6" font-family='"Liberation Sans", sans-serif' font-weight="bold" textLength="13.4" lengthAdjust="spacingAndGlyphs" text-anchor="end" stroke="#000" stroke-width="0.25">10</text>
<text x="1361.7" y="1056.1" font-size="10.6" font-family='"Liberation Sans", sans-serif' font-weight="bold" textLength="6.7" lengthAdjust="spacingAndGlyphs" text-anchor="end" stroke="#000" stroke-width="0.25">5</text>
<path d="M1380.6,1013.3 L1390.4,946.9 L1400.3,893.6 L1410.2,878.2 L1420.0,875.6 L1429.9,875.3 L1469.4,875.0 L1568.0,876.3 L1666.7,877.2 L1765.3,877.7" stroke="#f2a04c" stroke-width="1.4" fill="none" stroke-linejoin="round"/>
<path d="M1380.6,1079.2L1568.0,1077.8" stroke="#f0a050" stroke-width="1.5" fill="none" />
<path d="M1568.0,1077.8L1696.2,1076.7" stroke="#eab0b0" stroke-width="1.5" fill="none" />
<path d="M1696.2,1076.7L1765.3,1075.7" stroke="#f0a050" stroke-width="1.5" fill="none" />
<path d="M1380.6,1084L1765.3,1083.7" stroke="#14924c" stroke-width="2.2" fill="none" />
<line x1="1569.7" y1="957.9" x2="1609.0" y2="957.9" stroke="#fb8c3c" stroke-width="1.4" />
<line x1="1569.7" y1="985.9" x2="1609.0" y2="985.9" stroke="#e8b4c0" stroke-width="1.4" />
<line x1="1569.7" y1="1010.0" x2="1609.0" y2="1010.0" stroke="#f4f59a" stroke-width="1.4" />
<line x1="1569.7" y1="1034.2" x2="1609.0" y2="1034.2" stroke="#1ea050" stroke-width="1.4" />
<text x="1618.7" y="959.5" font-size="21" font-family='"Liberation Serif", serif' font-weight="bold" textLength="112.3" lengthAdjust="spacingAndGlyphs" stroke="#000" stroke-width="0.3">+crRNA+DNA</text>
<text x="1617.6" y="990.4" font-size="21" font-family='"Liberation Serif", serif' font-weight="bold" textLength="124.9" lengthAdjust="spacingAndGlyphs" stroke="#000" stroke-width="0.3">−crRNA−DNA</text>
<text x="1617.6" y="1013.6" font-size="21" font-family='"Liberation Serif", serif' font-weight="bold" textLength="116.8" lengthAdjust="spacingAndGlyphs" stroke="#000" stroke-width="0.3">−crRNA+DNA</text>
<text x="1617.0" y="1038.3" font-size="21" font-family='"Liberation Serif", serif' font-weight="bold" textLength="119.5" lengthAdjust="spacingAndGlyphs" stroke="#000" stroke-width="0.3">+crRNA−DNA</text>
<text x="1551.0" y="1127.7" font-size="21.5" font-family='"Liberation Serif", serif' font-weight="bold" textLength="62.7" lengthAdjust="spacingAndGlyphs">Cycles</text>
<text x="1328.6" y="1032.0" font-size="21" font-family='"Liberation Serif", serif' font-weight="bold" textLength="104.0" lengthAdjust="spacingAndGlyphs" transform="rotate(-90 1328.6 1032.0)">RFU(10*³)</text>
<path d="M1468.5,1482.9H1600.5M1468.5,1451.0H1600.5M1468.5,1419.1H1600.5M1468.5,1388.0H1600.5M1468.5,1356.9H1600.5M1468.5,1325.8H1600.5M1468.5,1294.7H1600.5M1468.5,1263.6H1600.5M1468.5,1233.1H1600.5M1468.5,1202.2H1600.5M1468.5,1171.2H1600.5" stroke="#e2e2e2" stroke-width="1.4" fill="none" />
<rect x="1485.3" y="1195.1" width="20.7" height="320.0" fill="#00bf9f" />
<rect x="1511.0" y="1482.9" width="20.9" height="32.2" fill="#fc8d62" />
<rect x="1537.0" y="1480.4" width="20.7" height="34.7" fill="#8ba0cf" />
<rect x="1562.6" y="1484.9" width="20.7" height="30.2" fill="#ff8bc6" />
<line x1="1468.5" y1="1161.0" x2="1468.5" y2="1516.1" stroke="#000" stroke-width="1.8" />
<line x1="1464.4" y1="1515.1" x2="1600.5" y2="1515.1" stroke="#000" stroke-width="2" />
<path d="M1464.0,1515.1H1468.5M1464.0,1482.9H1468.5M1464.0,1451.0H1468.5M1464.0,1419.1H1468.5M1464.0,1388.0H1468.5M1464.0,1356.9H1468.5M1464.0,1325.8H1468.5M1464.0,1294.7H1468.5M1464.0,1263.6H1468.5M1464.0,1233.1H1468.5M1464.0,1202.2H1468.5M1464.0,1171.2H1468.5" stroke="#000" stroke-width="1.8" fill="none" />
<text x="1463.5" y="1518.8" font-size="18" font-family='"Liberation Serif", serif' textLength="8.0" lengthAdjust="spacingAndGlyphs" text-anchor="end">0</text>
<text x="1463.5" y="1486.7" font-size="17" font-family='"Liberation Serif", serif' textLength="26.2" lengthAdjust="spacingAndGlyphs" text-anchor="end" letter-spacing="-1.2">2000</text>
<text x="1463.5" y="1454.8" font-size="17" font-family='"Liberation Serif", serif' textLength="26.2" lengthAdjust="spacingAndGlyphs" text-anchor="end" letter-spacing="-1.2">4000</text>
<text x="1463.5" y="1422.9" font-size="17" font-family='"Liberation Serif", serif' textLength="26.2" lengthAdjust="spacingAndGlyphs" text-anchor="end" letter-spacing="-1.2">6000</text>
<text x="1463.5" y="1391.8" font-size="17" font-family='"Liberation Serif", serif' textLength="26.2" lengthAdjust="spacingAndGlyphs" text-anchor="end" letter-spacing="-1.2">8000</text>
<text x="1463.5" y="1360.7" font-size="17" font-family='"Liberation Serif", serif' textLength="34.5" lengthAdjust="spacingAndGlyphs" text-anchor="end" letter-spacing="-1.2">10,000</text>
<text x="1463.5" y="1329.6" font-size="17" font-family='"Liberation Serif", serif' textLength="34.5" lengthAdjust="spacingAndGlyphs" text-anchor="end" letter-spacing="-1.2">12,000</text>
<text x="1463.5" y="1298.5" font-size="17" font-family='"Liberation Serif", serif' textLength="34.5" lengthAdjust="spacingAndGlyphs" text-anchor="end" letter-spacing="-1.2">14,000</text>
<text x="1463.5" y="1267.4" font-size="17" font-family='"Liberation Serif", serif' textLength="34.5" lengthAdjust="spacingAndGlyphs" text-anchor="end" letter-spacing="-1.2">16,000</text>
<text x="1463.5" y="1236.9" font-size="17" font-family='"Liberation Serif", serif' textLength="34.5" lengthAdjust="spacingAndGlyphs" text-anchor="end" letter-spacing="-1.2">18,000</text>
<text x="1463.5" y="1206.0" font-size="17" font-family='"Liberation Serif", serif' textLength="34.5" lengthAdjust="spacingAndGlyphs" text-anchor="end" letter-spacing="-1.2">20,000</text>
<text x="1463.5" y="1175.0" font-size="17" font-family='"Liberation Serif", serif' textLength="34.5" lengthAdjust="spacingAndGlyphs" text-anchor="end" letter-spacing="-1.2">22,000</text>
<path d="M1495.8,1192.4V1198.1M1492.4,1192.4h6.8M1492.4,1198.1h6.8M1521.4,1482.5V1483.3M1518.2,1482.5h6.5M1518.2,1483.3h6.5M1547.2,1478.1V1482.8M1543.8,1478.1h6.8M1543.8,1482.8h6.8M1572.9,1482.9V1486.6M1569.5,1482.9h6.8M1569.5,1486.6h6.8" stroke="#000" stroke-width="2" fill="none" />
<path d="M1495.6,1158.5V1153.5H1573.3V1158.5M1495.6,1174.1V1169.1H1547.2V1174.1M1495.6,1189.7V1184.7H1521.7V1189.7" stroke="#000" stroke-width="2" fill="none" />
<text x="1534.7" y="1154.3" font-size="9.5" font-family='"Liberation Serif", serif' font-weight="bold" textLength="15.0" lengthAdjust="spacingAndGlyphs" text-anchor="middle" fill="#222">****</text>
<text x="1522.0" y="1170.2" font-size="9.5" font-family='"Liberation Serif", serif' font-weight="bold" textLength="15.0" lengthAdjust="spacingAndGlyphs" text-anchor="middle" fill="#222">****</text>
<text x="1509.0" y="1185.9" font-size="9.5" font-family='"Liberation Serif", serif' font-weight="bold" textLength="15.0" lengthAdjust="spacingAndGlyphs" text-anchor="middle" fill="#222">****</text>
<text x="1403.8" y="1414.6" font-size="26.5" font-family='"Liberation Serif", serif' textLength="234.0" lengthAdjust="spacingAndGlyphs" transform="rotate(-90 1403.8 1414.6)">Fluorescence intensity</text>
<rect x="1610.7" y="1206.5" width="16.6" height="21.2" rx="1.8" fill="#00bf9f"/>
<rect x="1610.7" y="1232.5" width="16.6" height="21.2" rx="1.8" fill="#fc8d62"/>
<rect x="1610.7" y="1258.9" width="16.6" height="21.2" rx="1.8" fill="#8ba0cf"/>
<rect x="1610.7" y="1284.2" width="16.6" height="21.2" rx="1.8" fill="#ff8bc6"/>
<text x="1636.7" y="1220.0" font-size="25.5" font-family='"Liberation Serif", serif' font-weight="bold" textLength="111.2" lengthAdjust="spacingAndGlyphs" stroke="#000" stroke-width="0.55">+crRNA+DNA</text>
<text x="1636.7" y="1247.7" font-size="25.5" font-family='"Liberation Serif", serif' font-weight="bold" textLength="124.7" lengthAdjust="spacingAndGlyphs" stroke="#000" stroke-width="0.55">−crRNA−DNA</text>
<text x="1636.7" y="1274.1" font-size="25.5" font-family='"Liberation Serif", serif' font-weight="bold" textLength="117.0" lengthAdjust="spacingAndGlyphs" stroke="#000" stroke-width="0.55">−crRNA+DNA</text>
<text x="1636.7" y="1301.8" font-size="25.5" font-family='"Liberation Serif", serif' font-weight="bold" textLength="118.3" lengthAdjust="spacingAndGlyphs" stroke="#000" stroke-width="0.55">+crRNA−DNA</text>

</svg>
</body></html>
